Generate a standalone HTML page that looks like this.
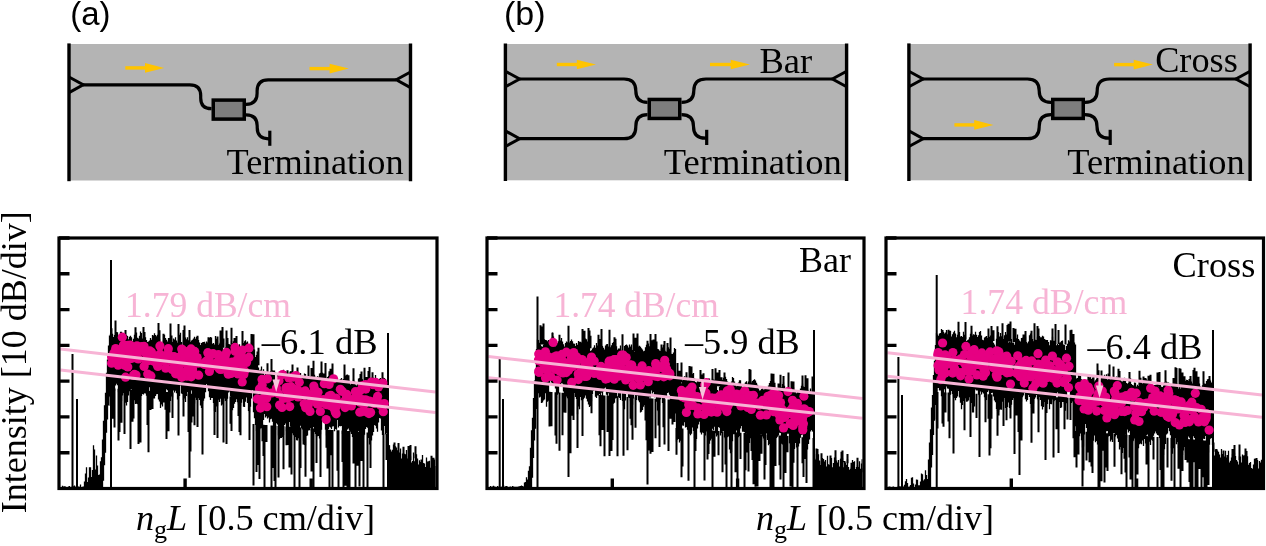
<!DOCTYPE html><html><head><meta charset="utf-8"><style>html,body{margin:0;padding:0;background:#fff;overflow:hidden}svg{display:block}</style></head><body>
<svg width="1266" height="546" viewBox="0 0 1266 546">
<rect width="1266" height="546" fill="#fff"/>
<rect x="69" y="44" width="341.5" height="136.5" fill="#b4b4b4"/>
<path d="M83,84.8 L189.8,84.8 Q200.7,84.8 200.7,95.6 L200.7,97.9 Q200.7,108.7 211.5,108.7 M246.0,104.3 Q257.1,104.3 257.1,93.2 L257.1,90.9 Q257.1,79.8 268.2,79.8 L396,79.8 M246.0,114.8 Q257.2,114.8 257.2,126.0 L257.2,127.6 Q257.2,138.8 268.5,138.8 L270,138.8" fill="none" stroke="#000" stroke-width="3.2"/>
<rect x="213.25" y="100.1" width="31" height="19" fill="#7d7d7d" stroke="#000" stroke-width="3.5"/>
<line x1="269.8" y1="130.7" x2="269.8" y2="145.8" stroke="#000" stroke-width="3.2"/>
<polyline points="69.0,77.0 83.2,84.8 69.0,92.6" fill="none" stroke="#000" stroke-width="3" stroke-linejoin="miter"/>
<polyline points="410.5,72.0 396.3,79.8 410.5,87.6" fill="none" stroke="#000" stroke-width="3" stroke-linejoin="miter"/>
<line x1="69" y1="43.4" x2="69" y2="181.2" stroke="#000" stroke-width="3.4"/>
<line x1="410.5" y1="43.4" x2="410.5" y2="181.2" stroke="#000" stroke-width="3.4"/>
<rect x="125.3" y="66.2" width="20.7" height="3.4" fill="#ffc400"/>
<polygon points="145.0,63.1 164.2,67.9 145.0,72.7" fill="#ffc400"/>
<rect x="309.5" y="66.9" width="21.1" height="3.4" fill="#ffc400"/>
<polygon points="329.6,63.8 348.8,68.6 329.6,73.4" fill="#ffc400"/>
<rect x="505.4" y="44" width="341.2" height="136.3" fill="#b4b4b4"/>
<path d="M519.4,79.0 L624.0,79.0 Q635.8,79.0 635.8,90.7 L635.8,90.7 Q635.8,102.3 647.5,102.3 M519.4,138.7 L624.0,138.7 Q635.8,138.7 635.8,126.9 L635.8,126.5 Q635.8,114.7 647.5,114.7 M681.5,102.3 Q693.8,102.3 693.8,90.7 L693.8,90.7 Q693.8,79.0 706.0,79.0 L832.6,79.0 M681.5,114.6 Q693.5,114.6 693.5,126.4 L693.5,126.4 Q693.5,138.2 705.5,138.2 L706.7,138.2" fill="none" stroke="#000" stroke-width="3.2"/>
<rect x="649.25" y="99.45" width="30.5" height="19" fill="#7d7d7d" stroke="#000" stroke-width="3.5"/>
<line x1="706.7" y1="129.8" x2="706.7" y2="145" stroke="#000" stroke-width="3.2"/>
<polyline points="505.4,71.2 519.6,79.0 505.4,86.8" fill="none" stroke="#000" stroke-width="3" stroke-linejoin="miter"/>
<polyline points="505.4,130.9 519.6,138.7 505.4,146.5" fill="none" stroke="#000" stroke-width="3" stroke-linejoin="miter"/>
<polyline points="846.6,71.2 832.4,79.0 846.6,86.8" fill="none" stroke="#000" stroke-width="3" stroke-linejoin="miter"/>
<line x1="505.4" y1="43.4" x2="505.4" y2="181" stroke="#000" stroke-width="3.4"/>
<line x1="846.6" y1="43.4" x2="846.6" y2="181" stroke="#000" stroke-width="3.4"/>
<rect x="556.8" y="62.8" width="21.0" height="3.4" fill="#ffc400"/>
<polygon points="576.8,59.7 596.0,64.5 576.8,69.3" fill="#ffc400"/>
<rect x="710.0" y="62.8" width="21.7" height="3.4" fill="#ffc400"/>
<polygon points="730.7,59.7 749.9,64.5 730.7,69.3" fill="#ffc400"/>
<rect x="908.9" y="44" width="341.2" height="136.3" fill="#b4b4b4"/>
<path d="M922.9,79.0 L1027.5,79.0 Q1039.2,79.0 1039.2,90.7 L1039.2,90.7 Q1039.2,102.3 1051.0,102.3 M922.9,138.7 L1027.5,138.7 Q1039.2,138.7 1039.2,126.9 L1039.2,126.5 Q1039.2,114.7 1051.0,114.7 M1085.0,102.3 Q1097.2,102.3 1097.2,90.7 L1097.2,90.7 Q1097.2,79.0 1109.5,79.0 L1236.1,79.0 M1085.0,114.6 Q1097.0,114.6 1097.0,126.4 L1097.0,126.4 Q1097.0,138.2 1109.0,138.2 L1110.2,138.2" fill="none" stroke="#000" stroke-width="3.2"/>
<rect x="1052.75" y="99.45" width="30.5" height="19" fill="#7d7d7d" stroke="#000" stroke-width="3.5"/>
<line x1="1110.2" y1="129.8" x2="1110.2" y2="145" stroke="#000" stroke-width="3.2"/>
<polyline points="908.9,71.2 923.1,79.0 908.9,86.8" fill="none" stroke="#000" stroke-width="3" stroke-linejoin="miter"/>
<polyline points="908.9,130.9 923.1,138.7 908.9,146.5" fill="none" stroke="#000" stroke-width="3" stroke-linejoin="miter"/>
<polyline points="1250.1,71.2 1235.9,79.0 1250.1,86.8" fill="none" stroke="#000" stroke-width="3" stroke-linejoin="miter"/>
<line x1="908.9" y1="43.4" x2="908.9" y2="181" stroke="#000" stroke-width="3.4"/>
<line x1="1250.1" y1="43.4" x2="1250.1" y2="181" stroke="#000" stroke-width="3.4"/>
<rect x="1114.1" y="62.9" width="20.6" height="3.4" fill="#ffc400"/>
<polygon points="1133.7,59.8 1152.9,64.6 1133.7,69.4" fill="#ffc400"/>
<rect x="954.4" y="123.2" width="20.8" height="3.4" fill="#ffc400"/>
<polygon points="974.2,120.1 993.4,124.9 974.2,129.7" fill="#ffc400"/>
<clipPath id="c1"><rect x="60.5" y="239.5" width="375" height="247.5"/></clipPath>
<g clip-path="url(#c1)"><path d="M61.5,487.0V488.5M62.5,485.8V488.5M63.5,486.4V488.5M64.5,486.2V488.5M65.5,486.5V488.5M66.5,486.9V488.5M67.5,486.9V488.5M68.5,486.6V488.5M69.5,486.0V488.5M70.5,487.0V488.5M71.5,486.7V488.5M72.5,487.0V488.5M73.5,486.2V488.5M74.5,485.4V488.5M75.5,486.8V488.5M76.5,486.1V488.5M77.5,486.7V488.5M78.5,486.5V488.5M79.5,486.7V488.5M80.5,484.5V488.5M81.5,486.9V488.5M82.5,486.7V488.5M83.5,486.5V488.5M84.5,481.4V488.5M85.5,473.6V488.5M86.5,467.2V488.5M87.5,481.9V488.5M88.5,477.4V488.5M89.5,467.3V488.5M90.5,467.2V488.5M91.5,477.0V488.5M92.5,470.0V488.5M93.5,445.3V488.5M94.5,449.5V488.5M95.5,469.5V488.5M96.5,455.5V488.5M97.5,465.4V488.5M98.5,474.9V488.5M99.5,474.6V488.5M100.5,461.3V488.5M101.5,457.3V488.5M102.5,439.6V488.5M103.5,420.8V480.8M104.5,405.2V465.2M105.5,392.8V452.8M106.5,372.7V432.7M107.5,359.6V419.6M108.5,345.5V405.5M109.5,335.6V396.5M110.5,333.8V397.5M111.5,337.7V390.0M112.5,333.7V391.4M113.5,337.0V392.2M114.5,335.0V390.9M115.5,334.7V385.6M116.5,332.0V383.8M117.5,332.2V385.2M118.5,335.8V392.2M119.5,334.3V398.3M120.5,331.8V403.2M121.5,331.7V401.0M122.5,332.9V395.4M123.5,336.0V393.0M124.5,337.4V394.7M125.5,334.8V402.7M126.5,334.9V405.5M127.5,336.0V401.9M128.5,339.2V395.5M129.5,336.8V391.2M130.5,335.8V389.7M131.5,337.2V389.0M132.5,341.1V391.2M133.5,338.7V399.5M134.5,334.8V400.3M135.5,332.6V404.0M136.5,332.5V403.8M137.5,337.7V404.0M138.5,338.4V404.9M139.5,335.8V401.6M140.5,331.5V400.1M141.5,333.1V396.0M142.5,338.4V393.9M143.5,339.7V394.6M144.5,337.8V393.2M145.5,337.3V393.6M146.5,339.9V395.8M147.5,342.0V393.7M148.5,341.6V393.3M149.5,340.4V387.3M150.5,338.0V390.9M151.5,339.8V393.0M152.5,335.0V398.3M153.5,335.4V398.4M154.5,333.2V398.4M155.5,335.1V395.9M156.5,336.2V394.3M157.5,334.8V394.1M158.5,340.0V399.4M159.5,339.1V401.5M160.5,342.1V407.9M161.5,343.0V404.6M162.5,344.2V406.5M163.5,340.8V402.6M164.5,334.7V402.5M165.5,337.9V396.9M166.5,339.7V389.3M167.5,341.6V390.3M168.5,338.1V396.4M169.5,338.0V401.0M170.5,341.5V401.1M171.5,341.3V396.5M172.5,341.9V397.5M173.5,338.4V390.4M174.5,339.5V392.4M175.5,337.2V390.8M176.5,340.4V393.2M177.5,342.8V399.4M178.5,341.8V395.0M179.5,334.8V396.0M180.5,332.8V385.5M181.5,342.1V393.4M182.5,345.5V394.0M183.5,341.4V400.0M184.5,337.0V398.4M185.5,337.4V402.1M186.5,339.2V395.9M187.5,337.2V392.3M188.5,340.3V396.7M189.5,340.6V396.9M190.5,342.1V396.3M191.5,340.6V390.6M192.5,339.7V397.2M193.5,338.4V400.7M194.5,336.8V403.6M195.5,338.8V397.8M196.5,337.0V400.0M197.5,336.8V399.5M198.5,340.1V398.0M199.5,342.6V399.9M200.5,345.0V405.4M201.5,343.0V408.0M202.5,342.2V403.4M203.5,341.9V400.7M204.5,341.8V398.5M205.5,343.5V392.2M206.5,341.4V383.9M207.5,342.4V386.8M208.5,340.5V391.3M209.5,340.8V397.3M210.5,337.0V400.0M211.5,337.5V398.0M212.5,343.7V397.9M213.5,343.1V403.0M214.5,344.4V410.7M215.5,336.0V412.1M216.5,338.7V406.4M217.5,340.5V405.8M218.5,344.9V399.7M219.5,343.5V402.1M220.5,342.1V398.8M221.5,344.3V405.4M222.5,347.3V404.6M223.5,351.3V401.5M224.5,350.3V398.5M225.5,347.5V400.9M226.5,342.8V400.8M227.5,342.3V398.8M228.5,343.9V392.6M229.5,344.2V391.5M230.5,344.9V396.4M231.5,340.9V402.9M232.5,342.9V410.2M233.5,341.3V408.0M234.5,342.5V403.8M235.5,342.2V402.1M236.5,346.5V399.2M237.5,350.3V402.2M238.5,349.3V404.8M239.5,344.3V410.0M240.5,349.8V405.7M241.5,351.5V402.7M242.5,351.1V399.3M243.5,342.9V406.7M244.5,341.2V407.0M245.5,340.3V401.7M246.5,342.6V397.5M247.5,341.4V402.9M248.5,347.8V411.0M249.5,349.6V412.5M250.5,344.6V406.8M251.5,342.0V398.6M252.5,336.3V390.3M253.5,346.3V412.3M254.5,349.4V418.2M255.5,357.1V424.9M256.5,354.9V431.0M257.5,361.4V430.4M258.5,367.5V432.5M259.5,370.3V429.5M260.5,369.8V428.5M261.5,366.5V428.2M262.5,371.6V426.3M263.5,369.3V420.0M264.5,375.2V414.1M265.5,373.1V417.4M266.5,375.4V416.3M267.5,372.3V418.6M268.5,373.1V417.4M269.5,373.4V422.6M270.5,371.0V419.2M271.5,372.3V418.8M272.5,370.2V421.7M273.5,370.6V430.3M274.5,370.5V433.0M275.5,372.5V429.8M276.5,373.6V423.3M277.5,373.5V424.4M278.5,376.1V435.4M279.5,375.3V439.3M280.5,375.7V438.1M281.5,372.6V438.1M282.5,372.2V436.9M283.5,369.7V435.0M284.5,372.5V424.9M285.5,371.1V423.4M286.5,372.4V431.3M287.5,372.1V431.3M288.5,375.7V433.0M289.5,376.5V421.9M290.5,371.2V426.8M291.5,371.3V429.6M292.5,372.9V433.3M293.5,374.3V435.3M294.5,375.2V434.9M295.5,373.1V437.1M296.5,373.8V440.2M297.5,372.4V440.5M298.5,373.6V438.2M299.5,376.7V430.8M300.5,372.9V425.8M301.5,377.5V428.3M302.5,375.8V429.5M303.5,376.0V440.8M304.5,373.4V445.1M305.5,374.0V445.5M306.5,378.3V436.0M307.5,376.2V435.6M308.5,376.9V430.5M309.5,376.8V430.2M310.5,376.0V427.9M311.5,377.7V431.0M312.5,376.2V431.0M313.5,376.0V427.0M314.5,374.7V432.0M315.5,376.8V434.0M316.5,378.4V436.5M317.5,376.3V436.3M318.5,376.8V436.1M319.5,373.4V438.4M320.5,373.1V434.3M321.5,371.9V429.8M322.5,372.8V420.8M323.5,375.3V418.1M324.5,375.2V420.9M325.5,380.3V429.8M326.5,378.3V435.5M327.5,377.1V435.4M328.5,375.9V428.9M329.5,372.5V426.8M330.5,380.9V427.5M331.5,378.7V429.1M332.5,382.7V426.4M333.5,377.7V426.2M334.5,379.2V431.2M335.5,376.9V429.0M336.5,376.5V429.8M337.5,378.6V420.1M338.5,381.7V427.5M339.5,379.7V426.0M340.5,378.9V426.2M341.5,378.0V426.0M342.5,379.7V434.1M343.5,379.1V441.0M344.5,379.7V444.4M345.5,375.6V438.6M346.5,374.7V431.6M347.5,374.4V429.6M348.5,379.8V428.6M349.5,380.8V430.8M350.5,384.6V431.8M351.5,382.7V434.1M352.5,383.0V437.1M353.5,379.6V437.4M354.5,380.9V433.9M355.5,384.4V437.6M356.5,385.5V432.0M357.5,382.7V436.5M358.5,378.4V431.1M359.5,378.1V438.8M360.5,377.9V438.0M361.5,378.7V446.0M362.5,379.2V438.8M363.5,384.1V436.6M364.5,383.9V434.8M365.5,385.3V428.9M366.5,384.3V427.1M367.5,383.7V427.8M368.5,386.3V437.9M369.5,382.8V444.4M370.5,381.7V440.3M371.5,377.7V440.6M372.5,378.9V435.4M373.5,377.7V432.1M374.5,378.5V425.1M375.5,375.1V425.8M376.5,381.4V428.4M377.5,381.4V431.8M378.5,383.8V422.5M379.5,378.7V418.1M380.5,378.1V418.4M381.5,379.1V430.5M382.5,378.9V435.0M383.5,377.7V434.0M384.5,377.9V426.0M385.5,379.1V434.2M386.5,383.4V433.5M387.5,386.5V446.1M388.5,449.3V488.5M389.5,445.2V488.5M390.5,449.6V488.5M391.5,451.4V488.5M392.5,449.8V488.5M393.5,444.5V488.5M394.5,453.2V488.5M395.5,446.2V488.5M396.5,447.4V488.5M397.5,450.2V488.5M398.5,453.5V488.5M399.5,452.5V488.5M400.5,448.6V488.5M401.5,458.4V488.5M402.5,453.4V488.5M403.5,458.7V488.5M404.5,453.7V488.5M405.5,454.2V488.5M406.5,450.0V488.5M407.5,458.4V488.5M408.5,455.7V488.5M409.5,457.7V488.5M410.5,456.3V488.5M411.5,462.5V488.5M412.5,461.1V488.5M413.5,452.6V488.5M414.5,461.3V488.5M415.5,454.2V488.5M416.5,454.3V488.5M417.5,458.6V488.5M418.5,464.4V488.5M419.5,460.3V488.5M420.5,462.0V488.5M421.5,463.3V488.5M422.5,455.1V488.5M423.5,462.9V488.5M424.5,463.5V488.5M425.5,467.1V488.5M426.5,457.6V488.5M427.5,461.4V488.5M428.5,461.2V488.5M429.5,460.8V488.5M430.5,467.8V488.5M431.5,467.6V488.5M432.5,462.6V488.5M433.5,465.9V488.5M434.5,459.6V488.5M435.5,465.9V488.5" stroke="#000" stroke-width="1.3" fill="none"/><path d="M110.5,388.1V405.7M111.5,328.2V339.2M112.5,388.2V418.8M114.5,388.4V427.5M115.5,320.4V339.5M118.5,388.7V440.5M119.5,388.7V432.0M121.5,388.9V422.7M124.5,389.1V434.0M125.5,330.1V340.3M130.5,389.5V448.9M132.5,389.6V421.8M133.5,389.7V418.4M135.5,327.3V341.0M138.5,390.0V444.1M140.5,390.2V442.5M143.5,327.1V341.6M144.5,331.9V341.7M147.5,390.7V425.0M148.5,390.7V452.3M150.5,390.9V410.1M152.5,391.0V408.9M158.5,323.0V342.8M159.5,330.3V342.9M163.5,333.8V343.2M165.5,391.9V409.7M166.5,392.0V438.9M168.5,392.1V431.3M169.5,392.2V412.6M170.5,323.6V343.7M171.5,335.6V343.8M172.5,392.4V418.0M178.5,324.0V344.3M178.5,392.8V435.4M183.5,330.0V344.7M183.5,393.2V416.4M184.5,325.5V344.8M188.5,393.5V432.1M189.5,329.9V345.1M189.5,393.6V477.8M190.5,393.7V451.6M191.5,393.7V422.6M192.5,393.8V416.5M194.5,393.9V425.3M197.5,335.7V345.8M197.5,394.1V427.1M202.5,394.5V454.6M208.5,337.3V346.6M209.5,337.8V346.7M214.5,395.3V435.1M217.5,336.5V347.3M217.5,395.5V438.1M220.5,330.6V347.5M222.5,326.9V347.7M223.5,338.6V347.7M223.5,396.0V442.5M226.5,330.4V348.0M226.5,396.2V443.9M227.5,338.0V348.1M230.5,396.4V423.8M231.5,327.7V348.4M231.5,396.5V431.1M234.5,337.9V348.6M236.5,335.9V348.7M238.5,397.0V415.9M239.5,397.1V431.9M240.5,397.1V435.2M242.5,331.1V349.2M249.5,397.8V440.1M251.5,334.1V349.9M253.5,334.2V351.4M253.5,424.0V485.5M256.5,424.3V471.9M257.5,351.6V362.5M258.5,347.7V365.3M258.5,424.4V464.9M259.5,424.5V479.0M262.5,424.7V441.3M263.5,424.8V455.9M264.5,424.9V488.5M266.5,425.0V441.9M267.5,363.3V378.1M271.5,359.1V378.4M271.5,425.4V488.5M273.5,425.5V468.0M274.5,425.6V481.1M275.5,425.7V488.1M278.5,425.9V477.6M283.5,426.3V469.2M286.5,426.5V445.2M287.5,370.2V379.6M287.5,426.6V444.9M289.5,426.7V467.6M290.5,371.7V379.8M291.5,426.9V474.5M292.5,364.4V379.9M294.5,427.1V487.8M297.5,367.5V380.3M299.5,427.4V488.5M300.5,427.5V468.0M303.5,427.7V444.4M304.5,427.8V444.0M305.5,427.9V476.7M308.5,365.5V381.1M311.5,368.1V381.3M311.5,428.3V471.5M313.5,360.7V381.5M313.5,428.5V488.5M316.5,428.7V463.0M320.5,429.0V477.1M321.5,361.4V382.1M322.5,373.8V382.1M323.5,373.5V382.2M325.5,363.1V382.4M326.5,429.4V447.8M327.5,429.5V468.5M329.5,371.3V382.7M329.5,429.7V488.5M330.5,368.7V382.7M330.5,429.7V455.2M331.5,368.9V382.8M332.5,363.4V382.9M332.5,429.9V488.5M337.5,430.3V470.8M338.5,430.3V488.7M342.5,430.6V461.9M343.5,430.7V490.7M344.5,364.4V383.8M345.5,430.9V485.7M347.5,431.0V492.8M348.5,375.3V384.1M349.5,431.1V488.5M353.5,368.2V384.4M353.5,431.4V463.5M355.5,431.6V488.5M357.5,431.7V465.7M358.5,431.8V448.5M359.5,431.9V486.4M360.5,374.1V385.0M361.5,371.6V385.0M361.5,432.0V460.9M363.5,432.2V492.1M364.5,367.7V385.3M366.5,376.9V385.4M367.5,432.5V487.4M368.5,371.1V385.6M369.5,367.1V385.6M370.5,432.7V467.9M372.5,372.3V385.9M382.5,372.2V386.6M383.5,433.7V496.0M386.5,433.9V460.0M388.5,445.0V453.3M394.5,442.5V457.2M398.5,443.1V457.5M403.5,446.8V462.7M408.5,446.0V459.7M409.5,452.8V461.7M410.5,445.0V460.3M415.5,446.2V458.2M421.5,459.4V467.3M431.5,455.8V471.6M433.5,457.7V469.9M72.5,354.0V488.5M77.0,399.0V488.5M111.0,260.0V488.5M388.0,333.0V488.5" stroke="#000" stroke-width="2" fill="none"/></g>
<g fill="#e60082"><circle cx="136.3" cy="354.2" r="4.6"/><circle cx="198.2" cy="363.2" r="4.6"/><circle cx="187.5" cy="359.2" r="4.6"/><circle cx="207.0" cy="361.4" r="4.6"/><circle cx="182.2" cy="358.0" r="4.6"/><circle cx="235.0" cy="347.4" r="4.6"/><circle cx="187.3" cy="352.2" r="4.6"/><circle cx="130.2" cy="345.1" r="4.6"/><circle cx="212.9" cy="364.4" r="4.6"/><circle cx="178.9" cy="362.4" r="4.6"/><circle cx="186.8" cy="376.2" r="4.6"/><circle cx="119.1" cy="350.2" r="4.6"/><circle cx="165.2" cy="359.4" r="4.6"/><circle cx="208.2" cy="365.2" r="4.6"/><circle cx="133.5" cy="348.3" r="4.6"/><circle cx="242.2" cy="381.9" r="4.6"/><circle cx="195.9" cy="361.1" r="4.6"/><circle cx="208.6" cy="354.1" r="4.6"/><circle cx="238.8" cy="354.6" r="4.6"/><circle cx="130.3" cy="354.4" r="4.6"/><circle cx="157.0" cy="364.2" r="4.6"/><circle cx="228.8" cy="363.0" r="4.6"/><circle cx="191.2" cy="376.8" r="4.6"/><circle cx="231.9" cy="370.7" r="4.6"/><circle cx="179.5" cy="365.6" r="4.6"/><circle cx="174.0" cy="356.6" r="4.6"/><circle cx="159.0" cy="360.4" r="4.6"/><circle cx="149.5" cy="355.1" r="4.6"/><circle cx="221.8" cy="361.9" r="4.6"/><circle cx="176.2" cy="358.5" r="4.6"/><circle cx="121.1" cy="354.6" r="4.6"/><circle cx="243.8" cy="374.4" r="4.6"/><circle cx="207.8" cy="352.7" r="4.6"/><circle cx="224.0" cy="368.1" r="4.6"/><circle cx="138.3" cy="359.0" r="4.6"/><circle cx="157.8" cy="366.4" r="4.6"/><circle cx="194.7" cy="351.4" r="4.6"/><circle cx="204.9" cy="364.4" r="4.6"/><circle cx="116.7" cy="357.0" r="4.6"/><circle cx="225.0" cy="359.6" r="4.6"/><circle cx="187.1" cy="364.7" r="4.6"/><circle cx="177.3" cy="373.9" r="4.6"/><circle cx="191.0" cy="348.9" r="4.6"/><circle cx="123.4" cy="345.2" r="4.6"/><circle cx="223.4" cy="359.5" r="4.6"/><circle cx="220.4" cy="369.4" r="4.6"/><circle cx="125.4" cy="353.0" r="4.6"/><circle cx="216.8" cy="362.3" r="4.6"/><circle cx="210.7" cy="367.1" r="4.6"/><circle cx="181.7" cy="349.0" r="4.6"/><circle cx="192.7" cy="372.6" r="4.6"/><circle cx="176.3" cy="364.9" r="4.6"/><circle cx="244.6" cy="371.1" r="4.6"/><circle cx="127.6" cy="345.4" r="4.6"/><circle cx="181.2" cy="356.1" r="4.6"/><circle cx="182.6" cy="350.0" r="4.6"/><circle cx="233.5" cy="367.8" r="4.6"/><circle cx="187.4" cy="359.3" r="4.6"/><circle cx="232.1" cy="362.1" r="4.6"/><circle cx="153.4" cy="361.1" r="4.6"/><circle cx="218.4" cy="354.7" r="4.6"/><circle cx="185.6" cy="360.1" r="4.6"/><circle cx="150.9" cy="375.9" r="4.6"/><circle cx="222.7" cy="369.1" r="4.6"/><circle cx="150.5" cy="359.5" r="4.6"/><circle cx="126.3" cy="356.6" r="4.6"/><circle cx="171.1" cy="361.4" r="4.6"/><circle cx="167.2" cy="357.4" r="4.6"/><circle cx="134.3" cy="374.4" r="4.6"/><circle cx="197.2" cy="357.6" r="4.6"/><circle cx="228.4" cy="373.5" r="4.6"/><circle cx="187.0" cy="371.6" r="4.6"/><circle cx="164.7" cy="359.1" r="4.6"/><circle cx="231.1" cy="373.4" r="4.6"/><circle cx="237.7" cy="366.9" r="4.6"/><circle cx="129.3" cy="353.7" r="4.6"/><circle cx="192.6" cy="368.9" r="4.6"/><circle cx="182.9" cy="357.3" r="4.6"/><circle cx="189.2" cy="361.7" r="4.6"/><circle cx="180.5" cy="356.6" r="4.6"/><circle cx="198.6" cy="375.2" r="4.6"/><circle cx="209.4" cy="356.8" r="4.6"/><circle cx="180.3" cy="358.2" r="4.6"/><circle cx="179.8" cy="360.8" r="4.6"/><circle cx="220.9" cy="367.9" r="4.6"/><circle cx="133.4" cy="355.9" r="4.6"/><circle cx="135.0" cy="350.0" r="4.6"/><circle cx="111.6" cy="363.2" r="4.6"/><circle cx="168.3" cy="348.7" r="4.6"/><circle cx="242.5" cy="350.1" r="4.6"/><circle cx="159.9" cy="345.9" r="4.6"/><circle cx="147.7" cy="374.0" r="4.6"/><circle cx="228.3" cy="374.2" r="4.6"/><circle cx="188.4" cy="367.0" r="4.6"/><circle cx="197.1" cy="360.9" r="4.6"/><circle cx="154.8" cy="356.1" r="4.6"/><circle cx="146.0" cy="361.5" r="4.6"/><circle cx="142.2" cy="350.4" r="4.6"/><circle cx="208.4" cy="362.1" r="4.6"/><circle cx="183.3" cy="372.5" r="4.6"/><circle cx="134.9" cy="352.4" r="4.6"/><circle cx="209.4" cy="371.5" r="4.6"/><circle cx="185.0" cy="357.7" r="4.6"/><circle cx="152.3" cy="355.7" r="4.6"/><circle cx="179.2" cy="371.5" r="4.6"/><circle cx="120.6" cy="354.0" r="4.6"/><circle cx="239.5" cy="360.8" r="4.6"/><circle cx="235.1" cy="351.2" r="4.6"/><circle cx="193.1" cy="361.2" r="4.6"/><circle cx="233.7" cy="372.4" r="4.6"/><circle cx="186.9" cy="372.0" r="4.6"/><circle cx="212.5" cy="365.9" r="4.6"/><circle cx="161.6" cy="361.0" r="4.6"/><circle cx="111.6" cy="356.9" r="4.6"/><circle cx="149.8" cy="350.9" r="4.6"/><circle cx="144.1" cy="366.4" r="4.6"/><circle cx="230.3" cy="367.7" r="4.6"/><circle cx="113.9" cy="353.1" r="4.6"/><circle cx="206.0" cy="361.3" r="4.6"/><circle cx="133.1" cy="358.0" r="4.6"/><circle cx="145.7" cy="353.2" r="4.6"/><circle cx="137.0" cy="345.8" r="4.6"/><circle cx="203.0" cy="363.8" r="4.6"/><circle cx="137.2" cy="356.2" r="4.6"/><circle cx="174.3" cy="368.8" r="4.6"/><circle cx="179.9" cy="363.0" r="4.6"/><circle cx="225.2" cy="362.4" r="4.6"/><circle cx="242.0" cy="357.1" r="4.6"/><circle cx="187.9" cy="351.7" r="4.6"/><circle cx="160.0" cy="354.0" r="4.6"/><circle cx="239.0" cy="365.0" r="4.6"/><circle cx="169.6" cy="356.1" r="4.6"/><circle cx="175.6" cy="373.7" r="4.6"/><circle cx="163.7" cy="360.0" r="4.6"/><circle cx="238.1" cy="374.0" r="4.6"/><circle cx="172.1" cy="369.5" r="4.6"/><circle cx="126.7" cy="358.2" r="4.6"/><circle cx="183.9" cy="353.9" r="4.6"/><circle cx="161.4" cy="356.9" r="4.6"/><circle cx="125.5" cy="377.2" r="4.6"/><circle cx="127.8" cy="366.9" r="4.6"/><circle cx="136.0" cy="375.0" r="4.6"/><circle cx="226.5" cy="352.4" r="4.6"/><circle cx="213.1" cy="353.7" r="4.6"/><circle cx="129.8" cy="358.7" r="4.6"/><circle cx="124.6" cy="365.3" r="4.6"/><circle cx="118.8" cy="360.0" r="4.6"/><circle cx="168.1" cy="353.5" r="4.6"/><circle cx="123.9" cy="349.4" r="4.6"/><circle cx="219.2" cy="368.7" r="4.6"/><circle cx="144.0" cy="346.3" r="4.6"/><circle cx="182.5" cy="351.2" r="4.6"/><circle cx="237.2" cy="359.8" r="4.6"/><circle cx="127.2" cy="345.6" r="4.6"/><circle cx="151.4" cy="352.1" r="4.6"/><circle cx="189.2" cy="355.1" r="4.6"/><circle cx="130.6" cy="358.4" r="4.6"/><circle cx="246.5" cy="362.4" r="4.6"/><circle cx="118.2" cy="365.2" r="4.6"/><circle cx="241.3" cy="365.3" r="4.6"/><circle cx="248.9" cy="357.4" r="4.6"/><circle cx="225.1" cy="356.6" r="4.6"/><circle cx="242.1" cy="374.4" r="4.6"/><circle cx="156.5" cy="362.4" r="4.6"/><circle cx="181.7" cy="377.3" r="4.6"/><circle cx="193.2" cy="356.4" r="4.6"/><circle cx="115.7" cy="348.5" r="4.6"/><circle cx="112.8" cy="357.8" r="4.6"/><circle cx="147.8" cy="360.7" r="4.6"/><circle cx="248.9" cy="348.2" r="4.6"/><circle cx="188.4" cy="352.9" r="4.6"/><circle cx="133.6" cy="375.5" r="4.6"/><circle cx="208.7" cy="360.1" r="4.6"/><circle cx="141.7" cy="346.7" r="4.6"/><circle cx="165.7" cy="368.2" r="4.6"/><circle cx="291.7" cy="396.3" r="4.6"/><circle cx="307.9" cy="406.0" r="4.6"/><circle cx="298.1" cy="397.0" r="4.6"/><circle cx="261.2" cy="401.0" r="4.6"/><circle cx="340.3" cy="389.3" r="4.6"/><circle cx="329.1" cy="384.5" r="4.6"/><circle cx="323.7" cy="399.5" r="4.6"/><circle cx="355.4" cy="391.7" r="4.6"/><circle cx="266.8" cy="406.7" r="4.6"/><circle cx="260.4" cy="408.1" r="4.6"/><circle cx="262.0" cy="379.4" r="4.6"/><circle cx="279.6" cy="405.1" r="4.6"/><circle cx="373.1" cy="384.7" r="4.6"/><circle cx="366.1" cy="400.1" r="4.6"/><circle cx="371.5" cy="382.0" r="4.6"/><circle cx="295.9" cy="375.6" r="4.6"/><circle cx="345.1" cy="407.6" r="4.6"/><circle cx="365.5" cy="384.6" r="4.6"/><circle cx="310.0" cy="411.4" r="4.6"/><circle cx="346.7" cy="394.3" r="4.6"/><circle cx="266.7" cy="398.1" r="4.6"/><circle cx="327.0" cy="401.2" r="4.6"/><circle cx="330.0" cy="405.5" r="4.6"/><circle cx="326.2" cy="419.6" r="4.6"/><circle cx="375.7" cy="382.4" r="4.6"/><circle cx="380.8" cy="405.6" r="4.6"/><circle cx="288.9" cy="378.0" r="4.6"/><circle cx="259.5" cy="389.0" r="4.6"/><circle cx="353.4" cy="399.2" r="4.6"/><circle cx="282.0" cy="407.4" r="4.6"/><circle cx="360.1" cy="390.8" r="4.6"/><circle cx="377.6" cy="396.4" r="4.6"/><circle cx="288.8" cy="390.9" r="4.6"/><circle cx="291.1" cy="386.7" r="4.6"/><circle cx="304.2" cy="403.7" r="4.6"/><circle cx="336.0" cy="398.1" r="4.6"/><circle cx="314.4" cy="388.7" r="4.6"/><circle cx="286.1" cy="389.6" r="4.6"/><circle cx="346.2" cy="398.3" r="4.6"/><circle cx="350.6" cy="400.9" r="4.6"/><circle cx="360.0" cy="402.3" r="4.6"/><circle cx="378.9" cy="403.0" r="4.6"/><circle cx="315.2" cy="394.1" r="4.6"/><circle cx="257.3" cy="398.9" r="4.6"/><circle cx="320.4" cy="411.5" r="4.6"/><circle cx="260.7" cy="388.8" r="4.6"/><circle cx="291.2" cy="392.6" r="4.6"/><circle cx="282.5" cy="374.5" r="4.6"/><circle cx="293.1" cy="377.2" r="4.6"/><circle cx="369.0" cy="413.6" r="4.6"/><circle cx="382.9" cy="383.0" r="4.6"/><circle cx="335.4" cy="412.3" r="4.6"/><circle cx="359.8" cy="412.2" r="4.6"/><circle cx="362.2" cy="411.6" r="4.6"/><circle cx="351.4" cy="405.9" r="4.6"/><circle cx="307.2" cy="407.9" r="4.6"/><circle cx="286.0" cy="387.8" r="4.6"/><circle cx="317.3" cy="403.9" r="4.6"/><circle cx="289.7" cy="406.6" r="4.6"/><circle cx="326.6" cy="404.7" r="4.6"/><circle cx="308.5" cy="404.0" r="4.6"/><circle cx="363.9" cy="400.1" r="4.6"/><circle cx="378.5" cy="387.1" r="4.6"/><circle cx="357.9" cy="400.0" r="4.6"/><circle cx="321.2" cy="402.9" r="4.6"/><circle cx="342.3" cy="391.4" r="4.6"/><circle cx="369.5" cy="401.1" r="4.6"/><circle cx="265.6" cy="391.7" r="4.6"/><circle cx="276.4" cy="387.9" r="4.6"/><circle cx="311.9" cy="398.9" r="4.6"/><circle cx="287.4" cy="387.3" r="4.6"/><circle cx="279.0" cy="380.8" r="4.6"/><circle cx="330.9" cy="395.4" r="4.6"/><circle cx="305.7" cy="407.7" r="4.6"/><circle cx="299.3" cy="382.3" r="4.6"/><circle cx="309.2" cy="394.5" r="4.6"/><circle cx="327.7" cy="399.5" r="4.6"/><circle cx="343.9" cy="402.1" r="4.6"/><circle cx="370.6" cy="412.4" r="4.6"/><circle cx="302.6" cy="392.1" r="4.6"/><circle cx="365.6" cy="400.1" r="4.6"/><circle cx="294.7" cy="394.0" r="4.6"/><circle cx="316.6" cy="392.9" r="4.6"/><circle cx="271.7" cy="393.0" r="4.6"/><circle cx="298.0" cy="390.2" r="4.6"/><circle cx="294.1" cy="389.4" r="4.6"/><circle cx="318.7" cy="399.0" r="4.6"/><circle cx="358.5" cy="398.0" r="4.6"/><circle cx="356.2" cy="392.6" r="4.6"/><circle cx="362.4" cy="385.8" r="4.6"/><circle cx="278.5" cy="393.7" r="4.6"/><circle cx="324.3" cy="383.7" r="4.6"/><circle cx="383.3" cy="411.7" r="4.6"/><circle cx="336.2" cy="406.7" r="4.6"/><circle cx="264.7" cy="398.0" r="4.6"/><circle cx="313.8" cy="386.0" r="4.6"/><circle cx="262.7" cy="398.7" r="4.6"/><circle cx="336.2" cy="413.8" r="4.6"/><circle cx="374.3" cy="401.5" r="4.6"/><circle cx="363.9" cy="404.5" r="4.6"/><circle cx="329.1" cy="396.1" r="4.6"/><circle cx="367.4" cy="412.2" r="4.6"/><circle cx="283.3" cy="398.4" r="4.6"/><circle cx="338.6" cy="403.0" r="4.6"/><circle cx="333.6" cy="407.9" r="4.6"/><circle cx="287.8" cy="394.5" r="4.6"/><circle cx="374.2" cy="403.5" r="4.6"/><circle cx="361.6" cy="399.6" r="4.6"/><circle cx="262.2" cy="385.1" r="4.6"/><circle cx="287.4" cy="398.3" r="4.6"/><circle cx="333.5" cy="378.8" r="4.6"/><circle cx="305.2" cy="394.7" r="4.6"/><circle cx="384.3" cy="403.5" r="4.6"/><circle cx="365.8" cy="389.1" r="4.6"/><circle cx="305.2" cy="390.9" r="4.6"/><circle cx="297.6" cy="394.5" r="4.6"/><circle cx="314.7" cy="397.8" r="4.6"/><circle cx="331.1" cy="401.4" r="4.6"/><circle cx="267.4" cy="378.8" r="4.6"/><circle cx="318.0" cy="392.3" r="4.6"/><circle cx="122.3" cy="337.2" r="4.6"/></g>
<line x1="60.5" y1="349" x2="435.5" y2="392" stroke="#f7b4d5" stroke-width="3"/>
<line x1="60.5" y1="370" x2="435.5" y2="412.6" stroke="#f7b4d5" stroke-width="3"/>
<line x1="276.2" y1="373" x2="276.2" y2="382" stroke="#f8c4dc" stroke-width="2.4"/>
<polygon points="272.5,379.5 279.9,379.5 276.2,392" fill="#f8c4dc"/>
<path d="M59,273.8H69.5M59,309.6H69.5M59,345.4H69.5M59,381.1H69.5M59,416.9H69.5M59,452.7H69.5M59,238H69.5M185.1,488.5V478.5M311.2,488.5V478.5" stroke="#000" stroke-width="3.4"/>
<rect x="59" y="238" width="378" height="250.5" fill="none" stroke="#000" stroke-width="3.2"/>
<clipPath id="c2"><rect x="488.5" y="239.5" width="374" height="247.5"/></clipPath>
<g clip-path="url(#c2)"><path d="M489.5,486.9V488.5M490.5,486.1V488.5M491.5,486.7V488.5M492.5,486.6V488.5M493.5,485.7V488.5M494.5,486.6V488.5M495.5,486.7V488.5M496.5,486.9V488.5M497.5,486.0V488.5M498.5,486.7V488.5M499.5,485.7V488.5M500.5,486.9V488.5M501.5,486.8V488.5M502.5,486.2V488.5M503.5,485.1V488.5M504.5,486.8V488.5M505.5,486.2V488.5M506.5,486.1V488.5M507.5,486.6V488.5M508.5,486.9V488.5M509.5,486.8V488.5M510.5,486.6V488.5M511.5,486.9V488.5M512.5,486.1V488.5M513.5,486.5V488.5M514.5,486.7V488.5M515.5,486.7V488.5M516.5,486.8V488.5M517.5,486.7V488.5M518.5,486.5V488.5M519.5,486.2V488.5M520.5,486.1V488.5M521.5,485.4V488.5M522.5,486.0V488.5M523.5,486.5V488.5M524.5,482.5V488.5M525.5,482.1V488.5M526.5,477.2V488.5M527.5,479.6V488.5M528.5,470.8V488.5M529.5,466.3V488.5M530.5,447.8V488.5M531.5,430.2V488.5M532.5,417.7V477.7M533.5,398.1V458.1M534.5,380.4V440.4M535.5,368.8V428.8M536.5,349.1V409.1M537.5,339.6V392.6M538.5,340.0V393.3M539.5,342.7V397.5M540.5,344.2V396.7M541.5,346.3V403.0M542.5,346.7V402.5M543.5,344.6V400.5M544.5,339.3V399.5M545.5,340.0V393.2M546.5,340.2V406.7M547.5,341.3V401.7M548.5,340.1V400.8M549.5,341.6V384.3M550.5,340.2V381.1M551.5,337.8V382.5M552.5,332.6V385.8M553.5,336.5V386.1M554.5,339.4V385.7M555.5,346.3V388.6M556.5,344.3V398.2M557.5,342.9V394.7M558.5,341.2V393.5M559.5,341.2V385.0M560.5,340.4V385.8M561.5,338.1V383.3M562.5,341.4V383.5M563.5,344.2V391.5M564.5,346.5V395.4M565.5,343.1V396.8M566.5,341.4V396.5M567.5,342.3V398.2M568.5,342.7V399.4M569.5,342.6V398.7M570.5,340.9V394.8M571.5,339.6V397.9M572.5,341.3V398.2M573.5,343.6V399.8M574.5,343.8V393.3M575.5,346.0V397.1M576.5,343.0V399.0M577.5,344.8V414.2M578.5,341.0V406.6M579.5,341.8V409.3M580.5,341.7V397.0M581.5,342.5V400.3M582.5,341.7V400.3M583.5,340.6V399.0M584.5,340.0V397.8M585.5,338.6V395.5M586.5,339.3V398.8M587.5,341.5V401.4M588.5,345.9V404.5M589.5,347.5V407.1M590.5,351.1V406.0M591.5,350.2V401.2M592.5,348.4V394.3M593.5,347.5V390.8M594.5,345.2V390.2M595.5,347.7V396.7M596.5,342.9V398.1M597.5,345.4V395.6M598.5,340.4V395.5M599.5,343.7V394.0M600.5,342.9V395.8M601.5,344.7V392.8M602.5,346.1V397.4M603.5,347.8V391.6M604.5,349.6V388.5M605.5,345.5V387.5M606.5,344.2V394.8M607.5,343.9V395.8M608.5,346.5V393.3M609.5,348.1V399.6M610.5,347.3V401.1M611.5,345.2V405.7M612.5,343.0V403.6M613.5,341.9V403.7M614.5,341.9V402.8M615.5,342.7V398.5M616.5,346.3V398.0M617.5,349.7V392.4M618.5,348.5V397.2M619.5,348.4V398.0M620.5,345.4V400.1M621.5,350.4V393.1M622.5,349.5V401.0M623.5,351.2V405.7M624.5,346.1V409.3M625.5,344.9V400.4M626.5,344.4V392.4M627.5,345.5V394.0M628.5,347.5V397.5M629.5,344.6V398.0M630.5,346.5V401.2M631.5,344.4V403.0M632.5,350.1V404.7M633.5,348.6V398.6M634.5,352.1V394.4M635.5,346.8V398.5M636.5,348.1V400.0M637.5,344.8V395.7M638.5,346.4V400.5M639.5,345.8V402.2M640.5,346.8V412.6M641.5,348.2V411.8M642.5,349.5V410.0M643.5,351.3V406.8M644.5,350.8V405.1M645.5,347.2V408.6M646.5,344.8V406.9M647.5,344.7V402.1M648.5,343.4V399.6M649.5,346.2V397.4M650.5,346.2V397.6M651.5,349.5V390.4M652.5,349.9V393.6M653.5,351.6V392.0M654.5,352.5V397.3M655.5,349.2V396.9M656.5,348.6V401.7M657.5,348.9V410.5M658.5,349.2V411.4M659.5,350.6V405.4M660.5,350.9V399.2M661.5,349.1V396.4M662.5,347.6V402.9M663.5,344.7V400.1M664.5,350.1V399.7M665.5,351.3V396.5M666.5,351.7V396.8M667.5,348.3V392.9M668.5,347.2V392.4M669.5,348.7V394.7M670.5,353.0V405.5M671.5,354.1V406.9M672.5,354.1V405.7M673.5,352.6V403.5M674.5,347.9V406.6M675.5,349.0V413.6M676.5,376.6V441.7M677.5,379.9V439.8M678.5,378.2V439.0M679.5,377.8V442.4M680.5,381.6V440.8M681.5,383.3V436.7M682.5,380.5V425.4M683.5,379.7V425.8M684.5,376.2V422.2M685.5,379.1V427.5M686.5,375.7V427.1M687.5,380.6V429.8M688.5,378.4V430.2M689.5,381.8V433.8M690.5,380.8V435.3M691.5,379.4V433.7M692.5,373.8V427.4M693.5,372.9V431.1M694.5,378.2V438.2M695.5,381.9V441.2M696.5,382.6V438.9M697.5,380.1V428.5M698.5,381.3V424.6M699.5,381.9V421.8M700.5,382.9V432.5M701.5,380.0V434.4M702.5,381.5V432.5M703.5,383.5V433.0M704.5,383.0V430.1M705.5,385.1V435.4M706.5,384.1V431.5M707.5,385.6V437.6M708.5,378.4V436.0M709.5,378.4V443.7M710.5,380.3V440.5M711.5,382.7V438.8M712.5,378.6V428.7M713.5,379.6V430.3M714.5,379.7V426.7M715.5,382.1V433.3M716.5,385.2V436.6M717.5,390.0V435.2M718.5,392.5V427.1M719.5,386.9V427.8M720.5,384.5V435.6M721.5,379.0V433.0M722.5,380.1V431.4M723.5,377.8V430.9M724.5,379.6V437.5M725.5,376.8V439.3M726.5,379.1V432.0M727.5,381.6V437.2M728.5,384.7V436.6M729.5,385.3V449.6M730.5,383.8V453.3M731.5,381.5V452.1M732.5,377.1V441.3M733.5,378.1V434.3M734.5,381.6V434.3M735.5,384.5V437.1M736.5,386.3V430.5M737.5,383.1V437.2M738.5,382.6V437.3M739.5,380.3V436.1M740.5,380.3V428.5M741.5,384.4V426.1M742.5,387.3V431.7M743.5,388.2V431.8M744.5,383.8V432.3M745.5,382.3V433.9M746.5,381.3V433.2M747.5,383.4V439.6M748.5,381.4V442.0M749.5,383.3V443.1M750.5,380.9V438.3M751.5,382.4V434.6M752.5,380.9V439.1M753.5,380.0V441.5M754.5,379.3V441.3M755.5,380.5V438.2M756.5,382.8V439.3M757.5,384.7V441.2M758.5,388.6V438.8M759.5,390.6V436.1M760.5,390.2V434.0M761.5,388.9V434.3M762.5,386.4V436.5M763.5,389.4V438.4M764.5,389.2V440.7M765.5,388.2V438.2M766.5,387.1V433.6M767.5,387.7V439.9M768.5,385.5V445.3M769.5,383.0V444.1M770.5,380.9V435.0M771.5,382.3V438.6M772.5,381.8V448.0M773.5,381.1V451.6M774.5,385.4V449.1M775.5,387.9V438.5M776.5,394.1V438.1M777.5,392.7V436.7M778.5,394.2V435.4M779.5,389.9V432.7M780.5,391.2V433.0M781.5,387.3V443.7M782.5,384.0V444.4M783.5,382.3V442.7M784.5,385.7V444.5M785.5,391.8V445.3M786.5,394.3V439.6M787.5,393.9V433.8M788.5,389.9V433.8M789.5,391.6V443.2M790.5,393.1V444.1M791.5,393.8V442.7M792.5,391.1V446.7M793.5,387.2V444.4M794.5,390.8V449.0M795.5,391.6V443.0M796.5,393.3V447.6M797.5,391.6V446.6M798.5,391.7V446.4M799.5,391.3V443.4M800.5,388.5V437.8M801.5,385.7V435.0M802.5,383.5V434.6M803.5,386.5V439.1M804.5,392.7V440.5M805.5,392.8V439.0M806.5,392.4V444.4M807.5,389.4V449.6M808.5,390.7V444.1M809.5,390.9V439.5M810.5,388.4V431.4M811.5,392.3V430.0M812.5,391.0V431.5M813.5,393.2V431.9M814.5,454.0V488.5M815.5,459.5V488.5M816.5,458.3V488.5M817.5,458.8V488.5M818.5,454.2V488.5M819.5,460.4V488.5M820.5,464.9V488.5M821.5,461.1V488.5M822.5,457.9V488.5M823.5,459.1V488.5M824.5,461.5V488.5M825.5,460.1V488.5M826.5,466.5V488.5M827.5,455.7V488.5M828.5,464.2V488.5M829.5,464.8V488.5M830.5,466.5V488.5M831.5,458.1V488.5M832.5,467.2V488.5M833.5,463.0V488.5M834.5,457.6V488.5M835.5,457.2V488.5M836.5,460.5V488.5M837.5,462.5V488.5M838.5,460.0V488.5M839.5,466.6V488.5M840.5,458.8V488.5M841.5,458.1V488.5M842.5,458.3V488.5M843.5,467.3V488.5M844.5,467.9V488.5M845.5,462.4V488.5M846.5,464.8V488.5M847.5,459.3V488.5M848.5,466.9V488.5M849.5,469.7V488.5M850.5,468.7V488.5M851.5,466.7V488.5M852.5,459.9V488.5M853.5,467.6V488.5M854.5,461.2V488.5M855.5,468.9V488.5M856.5,467.0V488.5M857.5,465.3V488.5M858.5,467.0V488.5M859.5,461.3V488.5M860.5,468.7V488.5M861.5,463.6V488.5M862.5,468.3V488.5" stroke="#000" stroke-width="1.3" fill="none"/><path d="M540.5,325.2V344.3M541.5,326.5V344.4M543.5,323.6V344.5M549.5,391.8V426.4M551.5,391.9V426.2M552.5,332.8V345.2M555.5,392.2V435.4M556.5,392.3V443.7M559.5,334.8V345.8M559.5,392.5V450.8M562.5,392.7V435.3M564.5,392.8V412.5M565.5,392.8V412.7M568.5,325.7V346.5M568.5,393.0V477.1M569.5,393.1V410.9M570.5,393.2V453.2M572.5,393.3V415.8M573.5,393.4V419.9M577.5,393.6V448.1M582.5,329.1V347.6M582.5,393.9V435.9M584.5,330.7V347.8M588.5,328.1V348.1M589.5,330.6V348.2M590.5,335.8V348.2M591.5,394.5V413.2M598.5,334.8V348.9M599.5,395.0V435.2M600.5,339.0V349.0M600.5,395.1V446.2M601.5,329.1V349.1M602.5,395.2V430.1M604.5,395.4V456.3M607.5,395.6V432.1M609.5,329.7V349.7M609.5,395.7V456.1M610.5,395.8V426.8M611.5,395.8V450.9M612.5,395.9V439.9M614.5,337.3V350.1M615.5,338.8V350.2M617.5,396.2V456.2M622.5,334.3V350.8M623.5,396.6V455.8M627.5,396.9V450.3M630.5,397.1V418.8M631.5,397.1V425.3M632.5,397.2V439.7M633.5,333.5V351.6M635.5,337.7V351.8M635.5,397.4V427.7M637.5,333.4V352.0M645.5,398.0V420.6M646.5,398.1V440.2M647.5,340.8V352.7M647.5,398.2V484.5M648.5,398.2V450.5M650.5,334.0V353.0M650.5,398.3V453.7M652.5,340.3V353.1M652.5,398.5V451.9M653.5,339.5V353.2M655.5,334.0V353.4M655.5,398.7V438.3M656.5,341.5V353.5M658.5,398.9V425.6M659.5,398.9V446.9M661.5,344.5V353.9M663.5,399.2V427.2M664.5,341.0V354.1M664.5,399.3V444.5M667.5,342.9V354.3M668.5,399.5V450.9M670.5,337.5V354.6M670.5,399.6V418.7M672.5,399.8V424.5M674.5,399.9V422.1M676.5,428.0V454.8M677.5,363.1V382.2M679.5,370.7V382.4M681.5,362.4V382.6M681.5,428.4V477.3M682.5,428.5V466.5M686.5,372.2V383.1M688.5,428.9V480.8M689.5,366.1V383.4M691.5,366.4V383.6M694.5,429.3V488.5M695.5,429.4V451.1M700.5,370.1V384.5M701.5,374.6V384.6M703.5,373.3V384.8M704.5,430.1V480.5M707.5,430.3V459.5M708.5,430.4V454.1M712.5,368.9V385.7M712.5,430.6V492.5M714.5,430.8V456.8M715.5,368.2V386.0M717.5,372.5V386.2M718.5,431.1V455.3M719.5,370.0V386.4M721.5,377.2V386.6M722.5,431.4V472.2M724.5,372.5V386.9M725.5,431.6V464.4M726.5,431.7V488.5M731.5,432.0V490.1M735.5,432.3V472.3M737.5,432.5V488.5M740.5,432.7V458.9M744.5,433.0V489.0M745.5,433.0V470.2M747.5,433.2V452.4M748.5,433.3V471.4M749.5,369.0V389.5M750.5,369.8V389.6M751.5,433.5V450.9M752.5,433.5V460.1M753.5,433.6V484.3M755.5,433.8V486.8M757.5,433.9V486.5M758.5,434.0V451.5M759.5,434.1V461.0M761.5,434.2V453.7M764.5,434.4V479.6M765.5,434.5V464.9M770.5,434.8V488.5M771.5,373.6V391.7M772.5,435.0V488.5M773.5,373.7V391.9M773.5,435.1V487.2M774.5,382.7V392.0M774.5,435.1V458.0M775.5,435.2V465.9M778.5,383.4V392.4M779.5,435.5V465.3M780.5,374.7V392.6M780.5,435.6V479.6M783.5,375.9V392.9M783.5,435.8V488.5M785.5,435.9V472.9M787.5,436.1V452.3M788.5,372.5V393.4M790.5,436.3V486.4M791.5,381.3V393.7M791.5,436.4V483.0M792.5,436.4V488.5M793.5,381.4V393.9M793.5,436.5V462.7M797.5,436.8V494.6M802.5,375.6V394.8M802.5,437.2V463.2M803.5,437.2V477.1M804.5,386.9V395.0M805.5,375.3V395.1M805.5,437.4V458.9M806.5,437.5V483.1M807.5,378.3V395.3M812.5,376.6V395.8M813.5,385.0V395.9M813.5,438.0V488.5M816.5,448.6V462.3M817.5,449.1V462.8M821.5,453.3V465.1M830.5,455.5V470.5M835.5,450.2V461.2M841.5,451.7V462.1M842.5,450.4V462.3M844.5,461.1V471.9M847.5,454.0V463.3M851.5,462.7V470.7M853.5,462.1V471.6M857.5,457.7V469.3M862.5,459.3V472.3M499.7,359.0V488.5M503.0,399.0V488.5M537.5,296.4V488.5M814.0,330.0V488.5" stroke="#000" stroke-width="2" fill="none"/></g>
<g fill="#e60082"><circle cx="616.5" cy="369.9" r="4.6"/><circle cx="610.1" cy="374.5" r="4.6"/><circle cx="665.0" cy="368.4" r="4.6"/><circle cx="538.5" cy="360.1" r="4.6"/><circle cx="590.3" cy="360.2" r="4.6"/><circle cx="619.6" cy="365.7" r="4.6"/><circle cx="594.3" cy="373.5" r="4.6"/><circle cx="648.8" cy="370.7" r="4.6"/><circle cx="663.2" cy="367.1" r="4.6"/><circle cx="666.7" cy="369.6" r="4.6"/><circle cx="545.6" cy="367.1" r="4.6"/><circle cx="605.6" cy="379.1" r="4.6"/><circle cx="542.8" cy="354.3" r="4.6"/><circle cx="642.1" cy="365.9" r="4.6"/><circle cx="539.4" cy="372.2" r="4.6"/><circle cx="628.4" cy="369.0" r="4.6"/><circle cx="561.9" cy="359.9" r="4.6"/><circle cx="624.8" cy="372.9" r="4.6"/><circle cx="648.4" cy="377.7" r="4.6"/><circle cx="581.6" cy="369.7" r="4.6"/><circle cx="621.6" cy="355.1" r="4.6"/><circle cx="584.8" cy="376.5" r="4.6"/><circle cx="623.4" cy="355.2" r="4.6"/><circle cx="610.8" cy="371.0" r="4.6"/><circle cx="568.5" cy="370.2" r="4.6"/><circle cx="578.5" cy="373.8" r="4.6"/><circle cx="571.7" cy="382.4" r="4.6"/><circle cx="565.4" cy="368.2" r="4.6"/><circle cx="631.6" cy="377.3" r="4.6"/><circle cx="627.4" cy="375.6" r="4.6"/><circle cx="655.7" cy="363.5" r="4.6"/><circle cx="611.5" cy="360.8" r="4.6"/><circle cx="566.0" cy="367.4" r="4.6"/><circle cx="565.3" cy="372.0" r="4.6"/><circle cx="563.6" cy="362.6" r="4.6"/><circle cx="558.6" cy="360.5" r="4.6"/><circle cx="560.0" cy="371.5" r="4.6"/><circle cx="557.9" cy="363.0" r="4.6"/><circle cx="666.3" cy="375.6" r="4.6"/><circle cx="614.0" cy="359.7" r="4.6"/><circle cx="594.2" cy="361.0" r="4.6"/><circle cx="634.4" cy="370.1" r="4.6"/><circle cx="571.5" cy="357.4" r="4.6"/><circle cx="649.7" cy="372.5" r="4.6"/><circle cx="581.2" cy="369.7" r="4.6"/><circle cx="557.7" cy="367.0" r="4.6"/><circle cx="624.4" cy="376.0" r="4.6"/><circle cx="640.4" cy="385.0" r="4.6"/><circle cx="607.5" cy="378.5" r="4.6"/><circle cx="538.7" cy="354.0" r="4.6"/><circle cx="562.0" cy="354.4" r="4.6"/><circle cx="638.4" cy="378.0" r="4.6"/><circle cx="669.8" cy="375.8" r="4.6"/><circle cx="600.8" cy="368.2" r="4.6"/><circle cx="600.7" cy="373.9" r="4.6"/><circle cx="545.8" cy="362.5" r="4.6"/><circle cx="557.1" cy="380.1" r="4.6"/><circle cx="582.1" cy="372.7" r="4.6"/><circle cx="553.9" cy="361.6" r="4.6"/><circle cx="626.2" cy="357.6" r="4.6"/><circle cx="633.3" cy="371.7" r="4.6"/><circle cx="555.6" cy="364.6" r="4.6"/><circle cx="558.6" cy="362.8" r="4.6"/><circle cx="599.9" cy="372.7" r="4.6"/><circle cx="600.9" cy="366.3" r="4.6"/><circle cx="586.8" cy="376.3" r="4.6"/><circle cx="568.5" cy="362.6" r="4.6"/><circle cx="578.2" cy="374.1" r="4.6"/><circle cx="585.0" cy="365.7" r="4.6"/><circle cx="655.6" cy="370.2" r="4.6"/><circle cx="580.8" cy="371.6" r="4.6"/><circle cx="666.5" cy="370.1" r="4.6"/><circle cx="569.6" cy="365.9" r="4.6"/><circle cx="634.9" cy="374.6" r="4.6"/><circle cx="663.2" cy="368.2" r="4.6"/><circle cx="623.6" cy="370.1" r="4.6"/><circle cx="606.4" cy="370.9" r="4.6"/><circle cx="556.2" cy="362.8" r="4.6"/><circle cx="550.7" cy="376.5" r="4.6"/><circle cx="669.8" cy="373.4" r="4.6"/><circle cx="655.4" cy="375.8" r="4.6"/><circle cx="576.0" cy="364.5" r="4.6"/><circle cx="563.0" cy="372.9" r="4.6"/><circle cx="616.0" cy="359.5" r="4.6"/><circle cx="572.6" cy="366.6" r="4.6"/><circle cx="611.4" cy="363.1" r="4.6"/><circle cx="600.8" cy="367.5" r="4.6"/><circle cx="665.4" cy="364.7" r="4.6"/><circle cx="538.9" cy="371.0" r="4.6"/><circle cx="538.8" cy="372.2" r="4.6"/><circle cx="615.0" cy="373.5" r="4.6"/><circle cx="656.1" cy="365.5" r="4.6"/><circle cx="609.1" cy="363.1" r="4.6"/><circle cx="631.7" cy="365.0" r="4.6"/><circle cx="546.5" cy="363.1" r="4.6"/><circle cx="666.9" cy="370.4" r="4.6"/><circle cx="543.1" cy="363.2" r="4.6"/><circle cx="612.7" cy="363.0" r="4.6"/><circle cx="625.7" cy="380.0" r="4.6"/><circle cx="588.3" cy="371.0" r="4.6"/><circle cx="559.2" cy="369.7" r="4.6"/><circle cx="588.9" cy="366.4" r="4.6"/><circle cx="615.4" cy="365.8" r="4.6"/><circle cx="642.3" cy="374.8" r="4.6"/><circle cx="576.8" cy="357.1" r="4.6"/><circle cx="619.1" cy="376.1" r="4.6"/><circle cx="591.5" cy="357.0" r="4.6"/><circle cx="545.5" cy="377.9" r="4.6"/><circle cx="566.3" cy="352.2" r="4.6"/><circle cx="608.1" cy="369.1" r="4.6"/><circle cx="663.8" cy="376.8" r="4.6"/><circle cx="555.3" cy="369.3" r="4.6"/><circle cx="627.3" cy="370.4" r="4.6"/><circle cx="640.9" cy="369.4" r="4.6"/><circle cx="583.5" cy="370.0" r="4.6"/><circle cx="624.8" cy="376.5" r="4.6"/><circle cx="562.7" cy="364.8" r="4.6"/><circle cx="623.6" cy="357.4" r="4.6"/><circle cx="599.9" cy="373.7" r="4.6"/><circle cx="545.7" cy="357.8" r="4.6"/><circle cx="663.9" cy="364.7" r="4.6"/><circle cx="585.0" cy="372.2" r="4.6"/><circle cx="556.6" cy="355.8" r="4.6"/><circle cx="641.8" cy="370.9" r="4.6"/><circle cx="538.6" cy="360.8" r="4.6"/><circle cx="574.0" cy="355.6" r="4.6"/><circle cx="642.3" cy="371.8" r="4.6"/><circle cx="609.2" cy="361.2" r="4.6"/><circle cx="600.4" cy="375.4" r="4.6"/><circle cx="620.7" cy="371.9" r="4.6"/><circle cx="573.7" cy="352.6" r="4.6"/><circle cx="628.5" cy="373.9" r="4.6"/><circle cx="614.0" cy="370.0" r="4.6"/><circle cx="612.1" cy="365.6" r="4.6"/><circle cx="630.2" cy="377.2" r="4.6"/><circle cx="607.7" cy="366.9" r="4.6"/><circle cx="545.4" cy="351.8" r="4.6"/><circle cx="545.6" cy="364.0" r="4.6"/><circle cx="655.0" cy="376.0" r="4.6"/><circle cx="547.5" cy="370.5" r="4.6"/><circle cx="582.0" cy="359.5" r="4.6"/><circle cx="616.8" cy="369.1" r="4.6"/><circle cx="635.5" cy="374.7" r="4.6"/><circle cx="643.3" cy="376.8" r="4.6"/><circle cx="554.2" cy="367.2" r="4.6"/><circle cx="664.7" cy="360.3" r="4.6"/><circle cx="548.5" cy="356.9" r="4.6"/><circle cx="624.2" cy="361.3" r="4.6"/><circle cx="648.3" cy="381.7" r="4.6"/><circle cx="622.5" cy="369.7" r="4.6"/><circle cx="585.9" cy="364.8" r="4.6"/><circle cx="657.8" cy="376.6" r="4.6"/><circle cx="614.3" cy="379.2" r="4.6"/><circle cx="578.3" cy="379.6" r="4.6"/><circle cx="638.9" cy="377.7" r="4.6"/><circle cx="566.2" cy="372.6" r="4.6"/><circle cx="633.2" cy="385.3" r="4.6"/><circle cx="549.9" cy="365.1" r="4.6"/><circle cx="630.1" cy="364.8" r="4.6"/><circle cx="644.4" cy="374.6" r="4.6"/><circle cx="559.4" cy="363.3" r="4.6"/><circle cx="628.8" cy="372.3" r="4.6"/><circle cx="567.9" cy="369.0" r="4.6"/><circle cx="554.0" cy="357.0" r="4.6"/><circle cx="647.7" cy="375.6" r="4.6"/><circle cx="789.1" cy="412.8" r="4.6"/><circle cx="727.6" cy="404.8" r="4.6"/><circle cx="798.5" cy="418.5" r="4.6"/><circle cx="785.7" cy="415.4" r="4.6"/><circle cx="771.3" cy="402.9" r="4.6"/><circle cx="769.4" cy="405.0" r="4.6"/><circle cx="682.7" cy="397.0" r="4.6"/><circle cx="726.1" cy="405.2" r="4.6"/><circle cx="773.0" cy="409.2" r="4.6"/><circle cx="704.9" cy="407.5" r="4.6"/><circle cx="725.0" cy="396.5" r="4.6"/><circle cx="802.8" cy="430.0" r="4.6"/><circle cx="778.6" cy="395.5" r="4.6"/><circle cx="790.2" cy="410.5" r="4.6"/><circle cx="762.7" cy="404.7" r="4.6"/><circle cx="783.5" cy="427.9" r="4.6"/><circle cx="753.4" cy="403.6" r="4.6"/><circle cx="727.8" cy="406.2" r="4.6"/><circle cx="798.6" cy="408.5" r="4.6"/><circle cx="760.4" cy="415.2" r="4.6"/><circle cx="788.0" cy="391.6" r="4.6"/><circle cx="706.7" cy="406.7" r="4.6"/><circle cx="751.5" cy="401.5" r="4.6"/><circle cx="689.2" cy="390.2" r="4.6"/><circle cx="689.0" cy="400.0" r="4.6"/><circle cx="724.8" cy="407.5" r="4.6"/><circle cx="794.6" cy="416.8" r="4.6"/><circle cx="796.9" cy="408.9" r="4.6"/><circle cx="688.4" cy="398.1" r="4.6"/><circle cx="730.2" cy="389.2" r="4.6"/><circle cx="741.9" cy="394.1" r="4.6"/><circle cx="782.3" cy="409.8" r="4.6"/><circle cx="704.1" cy="414.5" r="4.6"/><circle cx="779.9" cy="420.0" r="4.6"/><circle cx="805.1" cy="412.5" r="4.6"/><circle cx="793.2" cy="425.5" r="4.6"/><circle cx="741.9" cy="402.3" r="4.6"/><circle cx="780.8" cy="407.8" r="4.6"/><circle cx="771.7" cy="394.6" r="4.6"/><circle cx="728.8" cy="402.3" r="4.6"/><circle cx="790.2" cy="423.7" r="4.6"/><circle cx="704.7" cy="385.1" r="4.6"/><circle cx="717.1" cy="412.2" r="4.6"/><circle cx="726.9" cy="411.6" r="4.6"/><circle cx="710.9" cy="398.1" r="4.6"/><circle cx="689.0" cy="399.4" r="4.6"/><circle cx="751.3" cy="409.4" r="4.6"/><circle cx="807.6" cy="412.6" r="4.6"/><circle cx="784.5" cy="417.5" r="4.6"/><circle cx="691.2" cy="391.6" r="4.6"/><circle cx="751.5" cy="395.8" r="4.6"/><circle cx="719.9" cy="396.1" r="4.6"/><circle cx="792.5" cy="400.3" r="4.6"/><circle cx="805.4" cy="413.5" r="4.6"/><circle cx="797.4" cy="403.4" r="4.6"/><circle cx="681.4" cy="390.4" r="4.6"/><circle cx="711.0" cy="409.5" r="4.6"/><circle cx="707.5" cy="410.4" r="4.6"/><circle cx="774.4" cy="392.2" r="4.6"/><circle cx="710.7" cy="406.1" r="4.6"/><circle cx="803.9" cy="396.2" r="4.6"/><circle cx="692.9" cy="395.5" r="4.6"/><circle cx="704.2" cy="399.5" r="4.6"/><circle cx="717.4" cy="399.9" r="4.6"/><circle cx="732.3" cy="396.5" r="4.6"/><circle cx="712.5" cy="398.0" r="4.6"/><circle cx="726.3" cy="407.3" r="4.6"/><circle cx="709.4" cy="411.2" r="4.6"/><circle cx="711.4" cy="412.1" r="4.6"/><circle cx="721.2" cy="394.8" r="4.6"/><circle cx="689.1" cy="405.7" r="4.6"/><circle cx="697.0" cy="396.5" r="4.6"/><circle cx="773.7" cy="411.7" r="4.6"/><circle cx="804.1" cy="408.8" r="4.6"/><circle cx="711.2" cy="403.5" r="4.6"/><circle cx="802.7" cy="427.1" r="4.6"/><circle cx="788.5" cy="412.2" r="4.6"/><circle cx="685.2" cy="398.0" r="4.6"/><circle cx="767.9" cy="396.3" r="4.6"/><circle cx="748.1" cy="406.0" r="4.6"/><circle cx="794.1" cy="405.1" r="4.6"/><circle cx="689.3" cy="401.6" r="4.6"/><circle cx="773.4" cy="409.0" r="4.6"/><circle cx="733.0" cy="396.2" r="4.6"/><circle cx="748.2" cy="396.5" r="4.6"/><circle cx="727.2" cy="390.9" r="4.6"/><circle cx="809.3" cy="411.6" r="4.6"/><circle cx="775.0" cy="406.5" r="4.6"/><circle cx="697.7" cy="407.8" r="4.6"/><circle cx="716.1" cy="398.1" r="4.6"/><circle cx="803.4" cy="423.7" r="4.6"/><circle cx="747.8" cy="407.5" r="4.6"/><circle cx="686.0" cy="392.4" r="4.6"/><circle cx="744.8" cy="390.8" r="4.6"/><circle cx="759.1" cy="405.3" r="4.6"/><circle cx="738.0" cy="401.7" r="4.6"/><circle cx="757.8" cy="403.1" r="4.6"/><circle cx="733.2" cy="400.4" r="4.6"/><circle cx="708.4" cy="398.2" r="4.6"/><circle cx="724.5" cy="400.1" r="4.6"/><circle cx="778.9" cy="414.5" r="4.6"/><circle cx="792.5" cy="407.7" r="4.6"/><circle cx="708.8" cy="401.1" r="4.6"/><circle cx="722.7" cy="396.7" r="4.6"/><circle cx="686.4" cy="412.5" r="4.6"/><circle cx="790.2" cy="413.7" r="4.6"/><circle cx="804.5" cy="413.0" r="4.6"/><circle cx="705.0" cy="393.8" r="4.6"/><circle cx="762.7" cy="400.4" r="4.6"/><circle cx="766.4" cy="414.9" r="4.6"/><circle cx="780.5" cy="402.6" r="4.6"/><circle cx="778.0" cy="403.8" r="4.6"/><circle cx="806.1" cy="410.5" r="4.6"/><circle cx="688.8" cy="404.2" r="4.6"/><circle cx="802.5" cy="418.8" r="4.6"/><circle cx="706.0" cy="392.9" r="4.6"/><circle cx="744.8" cy="399.0" r="4.6"/><circle cx="782.6" cy="414.4" r="4.6"/><circle cx="731.9" cy="398.5" r="4.6"/><circle cx="753.4" cy="395.3" r="4.6"/><circle cx="736.5" cy="394.1" r="4.6"/><circle cx="724.7" cy="400.2" r="4.6"/><circle cx="773.4" cy="401.5" r="4.6"/><circle cx="692.0" cy="387.0" r="4.6"/><circle cx="691.4" cy="396.7" r="4.6"/><circle cx="719.1" cy="405.5" r="4.6"/><circle cx="682.5" cy="394.7" r="4.6"/><circle cx="796.8" cy="416.0" r="4.6"/><circle cx="706.3" cy="382.7" r="4.6"/><circle cx="749.2" cy="395.5" r="4.6"/><circle cx="796.7" cy="421.2" r="4.6"/><circle cx="697.8" cy="414.0" r="4.6"/><circle cx="740.9" cy="405.9" r="4.6"/><circle cx="692.8" cy="405.4" r="4.6"/><circle cx="728.6" cy="404.0" r="4.6"/><circle cx="553.1" cy="342.4" r="4.6"/></g>
<line x1="488.5" y1="356.5" x2="862.5" y2="398.5" stroke="#f7b4d5" stroke-width="3"/>
<line x1="488.5" y1="377.7" x2="862.5" y2="418.3" stroke="#f7b4d5" stroke-width="3"/>
<line x1="702.6" y1="381" x2="702.6" y2="389.6" stroke="#f8c4dc" stroke-width="2.4"/>
<polygon points="698.9,387.1 706.3000000000001,387.1 702.6,399.6" fill="#f8c4dc"/>
<path d="M487,273.8H497.5M487,309.6H497.5M487,345.4H497.5M487,381.1H497.5M487,416.9H497.5M487,452.7H497.5M487,238H497.5M612.3,488.5V478.5M737.6,488.5V478.5" stroke="#000" stroke-width="3.4"/>
<rect x="487" y="238" width="377" height="250.5" fill="none" stroke="#000" stroke-width="3.2"/>
<clipPath id="c3"><rect x="887.5" y="239.5" width="374.5" height="247.5"/></clipPath>
<g clip-path="url(#c3)"><path d="M888.5,486.8V488.5M889.5,486.6V488.5M890.5,486.8V488.5M891.5,486.9V488.5M892.5,486.8V488.5M893.5,486.6V488.5M894.5,486.9V488.5M895.5,486.9V488.5M896.5,487.0V488.5M897.5,486.7V488.5M898.5,486.7V488.5M899.5,486.3V488.5M900.5,486.5V488.5M901.5,486.1V488.5M902.5,486.5V488.5M903.5,486.5V488.5M904.5,484.8V488.5M905.5,481.3V488.5M906.5,479.1V488.5M907.5,483.1V488.5M908.5,486.8V488.5M909.5,486.5V488.5M910.5,485.1V488.5M911.5,477.7V488.5M912.5,477.3V488.5M913.5,483.4V488.5M914.5,486.9V488.5M915.5,484.6V488.5M916.5,479.4V488.5M917.5,479.8V488.5M918.5,485.2V488.5M919.5,485.3V488.5M920.5,481.5V488.5M921.5,473.6V488.5M922.5,474.2V488.5M923.5,480.4V488.5M924.5,479.2V488.5M925.5,470.3V488.5M926.5,474.9V488.5M927.5,478.9V488.5M928.5,459.4V488.5M929.5,442.6V488.5M930.5,429.2V488.5M931.5,407.4V467.4M932.5,395.1V455.1M933.5,375.0V435.0M934.5,360.8V420.8M935.5,344.9V404.9M936.5,333.1V391.3M937.5,334.5V388.1M938.5,335.8V388.0M939.5,333.4V390.6M940.5,332.9V390.5M941.5,328.9V396.2M942.5,331.6V394.5M943.5,332.1V397.1M944.5,333.6V389.2M945.5,332.6V394.9M946.5,330.1V386.6M947.5,334.3V388.4M948.5,330.7V388.8M949.5,330.8V392.9M950.5,330.8V394.7M951.5,336.4V390.9M952.5,334.3V394.0M953.5,332.2V396.6M954.5,330.8V398.1M955.5,333.6V400.3M956.5,337.3V398.0M957.5,334.7V396.5M958.5,336.4V390.9M959.5,331.9V397.6M960.5,336.5V402.8M961.5,335.9V409.2M962.5,337.1V405.0M963.5,331.7V401.0M964.5,334.7V399.6M965.5,336.7V398.3M966.5,341.1V401.8M967.5,340.2V401.4M968.5,339.6V400.4M969.5,337.2V397.2M970.5,333.8V394.3M971.5,331.8V402.9M972.5,335.4V412.4M973.5,334.3V412.5M974.5,334.7V406.5M975.5,331.8V389.4M976.5,334.8V390.5M977.5,336.9V390.5M978.5,335.3V394.8M979.5,332.0V396.8M980.5,331.0V391.4M981.5,335.4V394.4M982.5,339.8V392.2M983.5,340.2V393.4M984.5,337.6V397.2M985.5,336.8V400.5M986.5,336.1V400.0M987.5,338.1V392.1M988.5,336.2V390.5M989.5,337.0V395.4M990.5,335.4V396.1M991.5,337.8V393.0M992.5,338.0V392.7M993.5,342.7V396.5M994.5,344.4V400.5M995.5,346.7V402.3M996.5,338.7V409.1M997.5,335.5V411.1M998.5,331.9V412.1M999.5,336.4V409.7M1000.5,333.1V409.6M1001.5,336.3V409.7M1002.5,337.3V401.7M1003.5,339.0V400.1M1004.5,335.3V397.9M1005.5,332.1V408.0M1006.5,334.5V405.3M1007.5,337.4V406.9M1008.5,342.4V402.4M1009.5,342.0V408.1M1010.5,342.3V406.9M1011.5,339.0V404.8M1012.5,342.5V400.0M1013.5,342.5V397.9M1014.5,344.7V399.5M1015.5,339.8V398.4M1016.5,338.2V400.9M1017.5,334.4V407.2M1018.5,339.0V405.8M1019.5,340.5V405.0M1020.5,341.5V397.6M1021.5,338.1V401.5M1022.5,337.8V397.2M1023.5,337.2V395.5M1024.5,336.4V393.1M1025.5,336.5V399.2M1026.5,342.1V401.5M1027.5,343.3V399.9M1028.5,341.5V395.0M1029.5,335.2V397.0M1030.5,333.4V403.9M1031.5,335.3V408.1M1032.5,338.9V407.0M1033.5,341.3V403.5M1034.5,341.0V399.1M1035.5,339.8V397.4M1036.5,340.1V395.0M1037.5,336.8V399.3M1038.5,335.9V400.4M1039.5,335.9V397.1M1040.5,337.2V400.0M1041.5,337.3V406.2M1042.5,335.7V409.6M1043.5,336.5V407.0M1044.5,338.9V402.1M1045.5,339.7V405.8M1046.5,340.0V399.2M1047.5,340.0V404.0M1048.5,341.9V399.6M1049.5,345.2V409.3M1050.5,340.2V404.0M1051.5,340.6V404.3M1052.5,336.8V399.4M1053.5,340.8V402.3M1054.5,340.8V400.7M1055.5,343.6V399.9M1056.5,345.2V395.1M1057.5,344.1V392.2M1058.5,345.0V398.1M1059.5,342.8V401.9M1060.5,342.3V407.9M1061.5,340.9V407.4M1062.5,340.5V402.1M1063.5,344.6V401.9M1064.5,345.0V404.0M1065.5,349.9V410.8M1066.5,346.1V403.3M1067.5,343.7V385.5M1068.5,340.2V378.5M1069.5,341.6V390.1M1070.5,341.3V400.2M1071.5,341.7V403.1M1072.5,340.4V401.6M1073.5,344.3V400.2M1074.5,342.6V401.7M1075.5,344.5V402.4M1076.5,378.6V440.2M1077.5,378.1V440.9M1078.5,375.0V436.1M1079.5,374.1V436.3M1080.5,376.1V433.5M1081.5,379.2V440.3M1082.5,381.6V447.6M1083.5,382.5V446.6M1084.5,383.6V434.4M1085.5,383.8V423.9M1086.5,383.1V427.9M1087.5,379.8V439.4M1088.5,376.6V444.7M1089.5,377.6V440.7M1090.5,375.1V434.3M1091.5,379.1V435.0M1092.5,377.8V434.0M1093.5,382.9V440.7M1094.5,381.6V435.5M1095.5,380.3V442.2M1096.5,379.0V440.9M1097.5,378.1V444.5M1098.5,379.3V444.7M1099.5,378.8V438.9M1100.5,379.6V437.2M1101.5,379.6V434.5M1102.5,378.1V439.1M1103.5,378.1V442.5M1104.5,374.7V441.6M1105.5,375.9V438.0M1106.5,374.2V431.2M1107.5,380.0V431.1M1108.5,382.5V436.4M1109.5,381.2V436.1M1110.5,379.6V441.4M1111.5,377.2V439.8M1112.5,378.8V442.0M1113.5,379.5V433.3M1114.5,379.0V433.2M1115.5,377.8V436.5M1116.5,376.4V435.0M1117.5,377.0V438.4M1118.5,380.3V441.9M1119.5,378.7V449.4M1120.5,380.1V447.0M1121.5,381.2V449.7M1122.5,381.4V453.0M1123.5,379.2V448.1M1124.5,377.8V439.7M1125.5,378.9V434.8M1126.5,383.1V437.5M1127.5,383.7V429.4M1128.5,383.0V432.6M1129.5,378.6V431.0M1130.5,378.1V440.0M1131.5,384.0V436.9M1132.5,385.1V442.3M1133.5,385.5V440.7M1134.5,382.4V438.5M1135.5,382.7V437.4M1136.5,386.5V443.4M1137.5,384.7V445.2M1138.5,386.1V448.2M1139.5,382.4V444.3M1140.5,384.5V443.6M1141.5,381.2V444.2M1142.5,384.0V440.5M1143.5,382.8V446.0M1144.5,384.9V438.9M1145.5,380.3V443.5M1146.5,379.2V435.6M1147.5,380.2V434.5M1148.5,383.6V436.7M1149.5,386.3V441.8M1150.5,387.4V445.0M1151.5,387.0V439.8M1152.5,385.8V440.7M1153.5,385.2V435.8M1154.5,385.0V433.4M1155.5,384.8V431.4M1156.5,384.7V433.4M1157.5,385.9V435.0M1158.5,386.6V435.4M1159.5,384.7V437.9M1160.5,383.7V439.6M1161.5,386.7V445.8M1162.5,387.0V449.9M1163.5,385.6V455.1M1164.5,382.1V449.2M1165.5,384.7V444.0M1166.5,381.6V434.6M1167.5,382.6V433.6M1168.5,382.6V428.1M1169.5,384.4V431.2M1170.5,386.4V435.2M1171.5,385.3V448.3M1172.5,385.8V453.8M1173.5,383.6V448.2M1174.5,380.0V444.3M1175.5,380.0V438.2M1176.5,382.9V444.2M1177.5,384.1V442.1M1178.5,388.4V448.0M1179.5,385.1V454.2M1180.5,388.4V457.9M1181.5,385.3V463.2M1182.5,381.6V454.9M1183.5,378.8V450.5M1184.5,379.1V447.1M1185.5,381.1V452.6M1186.5,379.8V451.9M1187.5,380.1V447.5M1188.5,381.1V436.5M1189.5,380.5V437.8M1190.5,378.7V440.7M1191.5,381.4V445.5M1192.5,383.6V444.3M1193.5,386.5V436.3M1194.5,387.7V438.0M1195.5,388.6V442.9M1196.5,385.0V450.0M1197.5,380.1V449.7M1198.5,380.1V442.5M1199.5,383.6V446.6M1200.5,386.4V445.6M1201.5,387.5V449.7M1202.5,385.2V446.1M1203.5,385.3V438.8M1204.5,383.6V439.1M1205.5,383.8V436.1M1206.5,381.1V445.1M1207.5,379.2V450.2M1208.5,378.9V452.4M1209.5,379.3V444.7M1210.5,380.4V438.8M1211.5,382.5V438.0M1212.5,384.3V445.0M1213.5,447.7V488.5M1214.5,455.5V488.5M1215.5,449.3V488.5M1216.5,456.8V488.5M1217.5,450.4V488.5M1218.5,451.8V488.5M1219.5,454.6V488.5M1220.5,457.6V488.5M1221.5,449.0V488.5M1222.5,453.9V488.5M1223.5,460.4V488.5M1224.5,456.6V488.5M1225.5,450.8V488.5M1226.5,457.5V488.5M1227.5,461.6V488.5M1228.5,450.7V488.5M1229.5,462.6V488.5M1230.5,460.8V488.5M1231.5,457.6V488.5M1232.5,454.0V488.5M1233.5,452.8V488.5M1234.5,452.8V488.5M1235.5,455.9V488.5M1236.5,460.1V488.5M1237.5,461.6V488.5M1238.5,464.4V488.5M1239.5,456.2V488.5M1240.5,456.5V488.5M1241.5,462.6V488.5M1242.5,454.6V488.5M1243.5,455.4V488.5M1244.5,455.2V488.5M1245.5,455.7V488.5M1246.5,457.4V488.5M1247.5,456.3V488.5M1248.5,464.7V488.5M1249.5,462.9V488.5M1250.5,462.0V488.5M1251.5,467.9V488.5M1252.5,468.7V488.5M1253.5,464.5V488.5M1254.5,458.7V488.5M1255.5,467.8V488.5M1256.5,463.0V488.5M1257.5,460.0V488.5M1258.5,468.5V488.5M1259.5,461.1V488.5M1260.5,462.4V488.5M1261.5,459.7V488.5" stroke="#000" stroke-width="1.3" fill="none"/><path d="M936.5,392.0V419.6M937.5,392.1V428.6M942.5,330.1V338.3M942.5,392.3V423.5M943.5,392.3V426.7M945.5,392.4V412.6M948.5,329.7V338.6M948.5,392.5V421.5M949.5,392.6V438.3M953.5,392.8V453.5M958.5,321.8V339.1M964.5,393.2V430.3M965.5,322.0V339.5M970.5,393.5V437.1M971.5,325.8V339.8M976.5,393.7V418.0M979.5,393.9V457.0M985.5,394.1V422.2M988.5,328.6V340.6M988.5,394.2V418.8M989.5,394.3V455.5M990.5,394.3V448.2M991.5,326.1V340.8M991.5,394.4V418.7M993.5,330.2V340.9M997.5,326.2V341.1M997.5,394.6V435.8M998.5,394.7V415.4M1002.5,323.3V341.3M1003.5,394.9V425.9M1006.5,395.0V420.2M1007.5,324.9V341.6M1008.5,323.7V341.6M1009.5,326.9V341.7M1010.5,321.4V341.7M1010.5,395.2V418.4M1013.5,328.0V341.9M1014.5,395.4V453.9M1015.5,328.7V342.0M1016.5,395.4V415.6M1018.5,395.5V432.0M1019.5,395.6V475.0M1021.5,395.7V440.6M1023.5,334.4V342.4M1025.5,331.1V342.5M1031.5,330.8V342.8M1031.5,396.1V442.7M1033.5,396.2V413.6M1034.5,323.3V342.9M1037.5,325.9V343.1M1038.5,328.6V343.1M1038.5,396.4V432.2M1045.5,396.7V459.9M1046.5,396.7V412.9M1052.5,328.4V343.8M1053.5,397.0V457.4M1055.5,324.0V344.0M1056.5,397.2V429.2M1058.5,330.1V344.1M1058.5,397.2V453.0M1064.5,397.5V429.2M1065.5,324.4V344.5M1067.5,397.6V419.6M1070.5,330.3V344.7M1070.5,397.8V420.1M1071.5,329.8V344.8M1073.5,333.9V344.9M1073.5,397.9V438.3M1074.5,397.9V457.2M1075.5,398.0V426.2M1076.5,431.0V467.6M1078.5,431.2V454.5M1082.5,431.5V486.4M1083.5,431.5V470.5M1086.5,431.8V460.4M1088.5,374.3V383.5M1088.5,431.9V452.5M1089.5,432.0V462.2M1091.5,432.1V466.6M1092.5,432.2V472.9M1093.5,375.6V383.8M1097.5,363.6V383.9M1098.5,370.2V384.0M1098.5,432.6V494.1M1099.5,432.7V491.9M1100.5,432.8V451.8M1101.5,370.5V384.1M1101.5,432.9V481.3M1102.5,432.9V450.8M1104.5,433.1V482.6M1105.5,433.2V467.4M1107.5,433.3V471.0M1108.5,373.5V384.4M1109.5,364.5V384.5M1113.5,366.5V384.6M1114.5,433.8V466.8M1118.5,368.8V384.9M1119.5,370.9V384.9M1121.5,434.3V474.3M1124.5,434.5V458.8M1125.5,434.6V472.4M1126.5,434.7V488.5M1129.5,372.1V385.3M1129.5,434.9V457.4M1130.5,435.0V479.5M1132.5,435.1V487.3M1135.5,435.3V490.8M1137.5,435.5V474.5M1139.5,370.8V385.8M1140.5,377.8V385.8M1143.5,376.4V386.0M1145.5,378.0V386.0M1146.5,436.1V464.6M1148.5,375.8V386.2M1148.5,436.3V497.7M1150.5,374.7V386.3M1153.5,436.7V459.5M1157.5,372.6V386.6M1157.5,436.9V488.5M1159.5,372.1V386.7M1160.5,437.2V469.9M1161.5,437.2V488.4M1163.5,437.4V491.8M1165.5,370.2V386.9M1167.5,437.7V467.5M1171.5,438.0V480.7M1173.5,378.1V387.3M1174.5,438.2V500.7M1175.5,367.2V387.4M1176.5,368.0V387.4M1178.5,438.5V468.8M1179.5,368.2V387.5M1179.5,438.6V459.5M1180.5,368.7V387.6M1180.5,438.6V501.1M1181.5,373.7V387.6M1181.5,438.7V463.4M1182.5,372.4V387.7M1182.5,438.8V471.1M1184.5,376.3V387.8M1185.5,439.0V459.9M1187.5,439.1V462.5M1189.5,379.0V388.0M1189.5,439.3V482.0M1190.5,376.0V388.0M1190.5,439.4V488.5M1192.5,439.5V488.5M1193.5,369.9V388.1M1193.5,439.6V462.3M1194.5,367.7V388.2M1195.5,439.7V495.8M1196.5,371.2V388.3M1197.5,439.9V502.7M1198.5,376.8V388.4M1199.5,440.0V468.9M1201.5,440.2V497.2M1202.5,440.2V477.2M1203.5,371.2V388.6M1204.5,440.4V492.1M1205.5,440.5V503.7M1206.5,440.5V493.3M1208.5,440.7V484.9M1209.5,376.1V388.8M1213.5,442.5V451.7M1216.5,449.0V460.8M1223.5,450.5V464.4M1227.5,455.1V465.6M1232.5,449.1V458.0M1233.5,449.4V456.8M1234.5,444.9V456.8M1239.5,444.5V460.2M1245.5,448.6V459.7M1246.5,451.1V461.4M1255.5,458.8V471.8M1256.5,458.1V467.0M898.4,357.0V488.5M902.0,395.0V488.5M936.7,275.0V488.5M1213.0,330.0V488.5" stroke="#000" stroke-width="2" fill="none"/></g>
<g fill="#e60082"><circle cx="983.2" cy="376.2" r="4.6"/><circle cx="952.9" cy="364.6" r="4.6"/><circle cx="1038.7" cy="381.3" r="4.6"/><circle cx="1018.4" cy="370.5" r="4.6"/><circle cx="1022.2" cy="363.5" r="4.6"/><circle cx="1047.4" cy="377.6" r="4.6"/><circle cx="997.0" cy="358.1" r="4.6"/><circle cx="1057.6" cy="375.1" r="4.6"/><circle cx="1008.4" cy="361.8" r="4.6"/><circle cx="996.8" cy="350.8" r="4.6"/><circle cx="1054.9" cy="370.7" r="4.6"/><circle cx="985.5" cy="372.8" r="4.6"/><circle cx="1044.2" cy="371.8" r="4.6"/><circle cx="1035.8" cy="383.8" r="4.6"/><circle cx="1022.5" cy="368.4" r="4.6"/><circle cx="1000.7" cy="364.4" r="4.6"/><circle cx="939.5" cy="354.3" r="4.6"/><circle cx="998.8" cy="351.8" r="4.6"/><circle cx="1021.9" cy="372.6" r="4.6"/><circle cx="1024.3" cy="383.1" r="4.6"/><circle cx="945.0" cy="354.8" r="4.6"/><circle cx="1005.2" cy="368.5" r="4.6"/><circle cx="978.8" cy="358.4" r="4.6"/><circle cx="964.5" cy="354.5" r="4.6"/><circle cx="1043.1" cy="383.2" r="4.6"/><circle cx="1063.7" cy="381.0" r="4.6"/><circle cx="1042.4" cy="364.8" r="4.6"/><circle cx="998.7" cy="357.7" r="4.6"/><circle cx="959.9" cy="372.6" r="4.6"/><circle cx="972.9" cy="357.8" r="4.6"/><circle cx="1026.1" cy="360.4" r="4.6"/><circle cx="1066.5" cy="358.2" r="4.6"/><circle cx="1057.4" cy="361.8" r="4.6"/><circle cx="1045.7" cy="360.1" r="4.6"/><circle cx="1042.8" cy="371.0" r="4.6"/><circle cx="1069.0" cy="366.3" r="4.6"/><circle cx="953.5" cy="366.3" r="4.6"/><circle cx="947.6" cy="358.7" r="4.6"/><circle cx="952.7" cy="373.1" r="4.6"/><circle cx="1043.5" cy="374.8" r="4.6"/><circle cx="984.0" cy="370.1" r="4.6"/><circle cx="979.7" cy="364.8" r="4.6"/><circle cx="939.0" cy="369.9" r="4.6"/><circle cx="1027.4" cy="367.0" r="4.6"/><circle cx="953.4" cy="363.3" r="4.6"/><circle cx="939.6" cy="358.0" r="4.6"/><circle cx="994.4" cy="360.8" r="4.6"/><circle cx="1010.5" cy="384.1" r="4.6"/><circle cx="1040.6" cy="364.9" r="4.6"/><circle cx="1048.0" cy="373.2" r="4.6"/><circle cx="1017.7" cy="355.8" r="4.6"/><circle cx="952.9" cy="352.5" r="4.6"/><circle cx="981.9" cy="352.9" r="4.6"/><circle cx="999.5" cy="360.5" r="4.6"/><circle cx="971.9" cy="368.8" r="4.6"/><circle cx="1039.3" cy="376.7" r="4.6"/><circle cx="942.6" cy="343.0" r="4.6"/><circle cx="990.1" cy="351.9" r="4.6"/><circle cx="942.0" cy="367.5" r="4.6"/><circle cx="938.8" cy="354.9" r="4.6"/><circle cx="1018.9" cy="366.2" r="4.6"/><circle cx="972.9" cy="350.7" r="4.6"/><circle cx="1060.4" cy="364.6" r="4.6"/><circle cx="1039.2" cy="367.2" r="4.6"/><circle cx="1031.0" cy="376.7" r="4.6"/><circle cx="954.2" cy="360.4" r="4.6"/><circle cx="976.9" cy="374.9" r="4.6"/><circle cx="1032.2" cy="371.4" r="4.6"/><circle cx="945.2" cy="373.0" r="4.6"/><circle cx="1000.0" cy="370.9" r="4.6"/><circle cx="997.1" cy="377.2" r="4.6"/><circle cx="942.1" cy="359.3" r="4.6"/><circle cx="964.3" cy="362.9" r="4.6"/><circle cx="960.6" cy="375.8" r="4.6"/><circle cx="999.1" cy="363.2" r="4.6"/><circle cx="969.6" cy="354.4" r="4.6"/><circle cx="1020.0" cy="376.7" r="4.6"/><circle cx="1021.2" cy="373.5" r="4.6"/><circle cx="1068.5" cy="387.6" r="4.6"/><circle cx="1006.8" cy="356.2" r="4.6"/><circle cx="1063.5" cy="369.1" r="4.6"/><circle cx="1047.2" cy="376.5" r="4.6"/><circle cx="960.6" cy="358.9" r="4.6"/><circle cx="1004.6" cy="356.8" r="4.6"/><circle cx="965.3" cy="370.4" r="4.6"/><circle cx="946.4" cy="364.5" r="4.6"/><circle cx="1043.2" cy="368.7" r="4.6"/><circle cx="1022.0" cy="362.0" r="4.6"/><circle cx="998.9" cy="362.4" r="4.6"/><circle cx="994.7" cy="366.5" r="4.6"/><circle cx="969.0" cy="379.1" r="4.6"/><circle cx="1041.0" cy="365.5" r="4.6"/><circle cx="1038.1" cy="364.1" r="4.6"/><circle cx="987.5" cy="358.0" r="4.6"/><circle cx="944.8" cy="361.3" r="4.6"/><circle cx="1063.7" cy="382.5" r="4.6"/><circle cx="1060.4" cy="365.0" r="4.6"/><circle cx="1041.1" cy="375.1" r="4.6"/><circle cx="1050.0" cy="365.8" r="4.6"/><circle cx="980.7" cy="364.2" r="4.6"/><circle cx="958.4" cy="360.4" r="4.6"/><circle cx="971.2" cy="367.9" r="4.6"/><circle cx="965.9" cy="346.4" r="4.6"/><circle cx="1037.5" cy="367.8" r="4.6"/><circle cx="938.0" cy="365.4" r="4.6"/><circle cx="1057.0" cy="383.1" r="4.6"/><circle cx="1004.3" cy="368.6" r="4.6"/><circle cx="966.6" cy="368.2" r="4.6"/><circle cx="971.1" cy="365.0" r="4.6"/><circle cx="993.6" cy="361.6" r="4.6"/><circle cx="954.7" cy="368.8" r="4.6"/><circle cx="940.5" cy="367.4" r="4.6"/><circle cx="1032.9" cy="388.2" r="4.6"/><circle cx="1040.1" cy="380.3" r="4.6"/><circle cx="1042.7" cy="378.5" r="4.6"/><circle cx="1018.6" cy="373.7" r="4.6"/><circle cx="1050.1" cy="374.6" r="4.6"/><circle cx="971.7" cy="366.3" r="4.6"/><circle cx="942.8" cy="370.9" r="4.6"/><circle cx="1026.9" cy="376.5" r="4.6"/><circle cx="1011.2" cy="361.3" r="4.6"/><circle cx="941.6" cy="365.3" r="4.6"/><circle cx="976.8" cy="364.6" r="4.6"/><circle cx="996.3" cy="375.0" r="4.6"/><circle cx="987.6" cy="358.1" r="4.6"/><circle cx="978.9" cy="354.8" r="4.6"/><circle cx="937.7" cy="355.1" r="4.6"/><circle cx="1006.9" cy="372.8" r="4.6"/><circle cx="943.6" cy="360.3" r="4.6"/><circle cx="938.2" cy="352.5" r="4.6"/><circle cx="984.4" cy="367.1" r="4.6"/><circle cx="1026.3" cy="365.0" r="4.6"/><circle cx="993.4" cy="367.8" r="4.6"/><circle cx="942.6" cy="371.0" r="4.6"/><circle cx="1052.4" cy="356.1" r="4.6"/><circle cx="974.2" cy="349.7" r="4.6"/><circle cx="971.4" cy="358.9" r="4.6"/><circle cx="1034.3" cy="374.6" r="4.6"/><circle cx="965.8" cy="371.0" r="4.6"/><circle cx="1016.9" cy="373.5" r="4.6"/><circle cx="984.9" cy="369.7" r="4.6"/><circle cx="1031.7" cy="360.9" r="4.6"/><circle cx="1045.3" cy="376.4" r="4.6"/><circle cx="947.7" cy="363.0" r="4.6"/><circle cx="1030.7" cy="376.7" r="4.6"/><circle cx="1006.3" cy="362.1" r="4.6"/><circle cx="1038.0" cy="353.7" r="4.6"/><circle cx="1010.0" cy="372.3" r="4.6"/><circle cx="1020.7" cy="364.8" r="4.6"/><circle cx="970.3" cy="371.0" r="4.6"/><circle cx="985.8" cy="357.1" r="4.6"/><circle cx="971.1" cy="365.6" r="4.6"/><circle cx="1053.0" cy="378.2" r="4.6"/><circle cx="1024.1" cy="370.0" r="4.6"/><circle cx="943.8" cy="367.3" r="4.6"/><circle cx="1067.2" cy="378.2" r="4.6"/><circle cx="984.2" cy="361.0" r="4.6"/><circle cx="939.3" cy="363.7" r="4.6"/><circle cx="940.8" cy="379.6" r="4.6"/><circle cx="942.1" cy="356.6" r="4.6"/><circle cx="995.7" cy="358.5" r="4.6"/><circle cx="943.3" cy="367.5" r="4.6"/><circle cx="1063.3" cy="372.2" r="4.6"/><circle cx="1032.6" cy="372.4" r="4.6"/><circle cx="942.4" cy="375.2" r="4.6"/><circle cx="1144.1" cy="404.0" r="4.6"/><circle cx="1139.0" cy="421.5" r="4.6"/><circle cx="1088.6" cy="403.3" r="4.6"/><circle cx="1134.6" cy="406.2" r="4.6"/><circle cx="1134.7" cy="419.9" r="4.6"/><circle cx="1114.3" cy="391.0" r="4.6"/><circle cx="1150.6" cy="388.2" r="4.6"/><circle cx="1141.6" cy="411.7" r="4.6"/><circle cx="1209.1" cy="430.1" r="4.6"/><circle cx="1172.9" cy="412.8" r="4.6"/><circle cx="1109.9" cy="408.3" r="4.6"/><circle cx="1127.4" cy="410.4" r="4.6"/><circle cx="1184.1" cy="421.3" r="4.6"/><circle cx="1079.9" cy="396.6" r="4.6"/><circle cx="1165.7" cy="405.2" r="4.6"/><circle cx="1187.0" cy="408.0" r="4.6"/><circle cx="1089.1" cy="403.1" r="4.6"/><circle cx="1168.9" cy="417.3" r="4.6"/><circle cx="1152.7" cy="397.5" r="4.6"/><circle cx="1107.7" cy="410.9" r="4.6"/><circle cx="1191.8" cy="402.2" r="4.6"/><circle cx="1168.7" cy="400.1" r="4.6"/><circle cx="1132.8" cy="396.8" r="4.6"/><circle cx="1168.2" cy="398.6" r="4.6"/><circle cx="1196.4" cy="407.5" r="4.6"/><circle cx="1124.6" cy="411.6" r="4.6"/><circle cx="1113.1" cy="406.3" r="4.6"/><circle cx="1165.8" cy="413.6" r="4.6"/><circle cx="1185.6" cy="409.0" r="4.6"/><circle cx="1205.9" cy="419.1" r="4.6"/><circle cx="1144.1" cy="407.0" r="4.6"/><circle cx="1097.6" cy="401.2" r="4.6"/><circle cx="1099.4" cy="392.3" r="4.6"/><circle cx="1079.0" cy="400.6" r="4.6"/><circle cx="1167.3" cy="400.4" r="4.6"/><circle cx="1161.0" cy="412.3" r="4.6"/><circle cx="1151.3" cy="402.4" r="4.6"/><circle cx="1160.1" cy="395.9" r="4.6"/><circle cx="1084.1" cy="409.0" r="4.6"/><circle cx="1190.6" cy="405.2" r="4.6"/><circle cx="1092.3" cy="405.0" r="4.6"/><circle cx="1104.4" cy="410.5" r="4.6"/><circle cx="1096.5" cy="398.7" r="4.6"/><circle cx="1185.6" cy="417.1" r="4.6"/><circle cx="1185.1" cy="422.4" r="4.6"/><circle cx="1126.7" cy="398.0" r="4.6"/><circle cx="1161.0" cy="403.4" r="4.6"/><circle cx="1126.2" cy="395.5" r="4.6"/><circle cx="1098.0" cy="394.5" r="4.6"/><circle cx="1184.0" cy="415.4" r="4.6"/><circle cx="1193.4" cy="418.2" r="4.6"/><circle cx="1105.7" cy="397.1" r="4.6"/><circle cx="1154.2" cy="411.2" r="4.6"/><circle cx="1086.8" cy="395.7" r="4.6"/><circle cx="1096.7" cy="411.1" r="4.6"/><circle cx="1103.6" cy="401.7" r="4.6"/><circle cx="1185.9" cy="409.5" r="4.6"/><circle cx="1201.9" cy="417.9" r="4.6"/><circle cx="1166.0" cy="405.2" r="4.6"/><circle cx="1115.1" cy="393.2" r="4.6"/><circle cx="1168.5" cy="408.1" r="4.6"/><circle cx="1195.3" cy="393.3" r="4.6"/><circle cx="1176.8" cy="400.6" r="4.6"/><circle cx="1174.5" cy="399.8" r="4.6"/><circle cx="1115.0" cy="402.8" r="4.6"/><circle cx="1117.3" cy="385.7" r="4.6"/><circle cx="1201.2" cy="409.3" r="4.6"/><circle cx="1082.3" cy="392.6" r="4.6"/><circle cx="1194.5" cy="416.4" r="4.6"/><circle cx="1114.1" cy="409.3" r="4.6"/><circle cx="1179.4" cy="425.0" r="4.6"/><circle cx="1188.7" cy="405.7" r="4.6"/><circle cx="1139.3" cy="402.4" r="4.6"/><circle cx="1168.8" cy="393.6" r="4.6"/><circle cx="1155.1" cy="391.1" r="4.6"/><circle cx="1117.4" cy="403.5" r="4.6"/><circle cx="1088.3" cy="410.2" r="4.6"/><circle cx="1087.3" cy="392.0" r="4.6"/><circle cx="1098.8" cy="386.0" r="4.6"/><circle cx="1150.0" cy="402.4" r="4.6"/><circle cx="1102.3" cy="391.0" r="4.6"/><circle cx="1161.6" cy="401.9" r="4.6"/><circle cx="1080.9" cy="388.8" r="4.6"/><circle cx="1121.8" cy="397.0" r="4.6"/><circle cx="1206.2" cy="417.0" r="4.6"/><circle cx="1181.2" cy="401.9" r="4.6"/><circle cx="1190.6" cy="409.6" r="4.6"/><circle cx="1155.6" cy="401.1" r="4.6"/><circle cx="1115.5" cy="399.6" r="4.6"/><circle cx="1106.3" cy="408.9" r="4.6"/><circle cx="1186.2" cy="409.8" r="4.6"/><circle cx="1118.5" cy="398.5" r="4.6"/><circle cx="1172.2" cy="415.0" r="4.6"/><circle cx="1088.3" cy="387.1" r="4.6"/><circle cx="1087.3" cy="394.9" r="4.6"/><circle cx="1102.0" cy="394.1" r="4.6"/><circle cx="1090.1" cy="390.8" r="4.6"/><circle cx="1206.3" cy="413.5" r="4.6"/><circle cx="1174.8" cy="400.0" r="4.6"/><circle cx="1136.2" cy="393.2" r="4.6"/><circle cx="1167.1" cy="416.0" r="4.6"/><circle cx="1116.0" cy="402.0" r="4.6"/><circle cx="1163.5" cy="401.6" r="4.6"/><circle cx="1164.3" cy="405.5" r="4.6"/><circle cx="1109.4" cy="405.1" r="4.6"/><circle cx="1151.9" cy="405.3" r="4.6"/><circle cx="1079.3" cy="386.4" r="4.6"/><circle cx="1110.2" cy="413.2" r="4.6"/><circle cx="1175.8" cy="403.8" r="4.6"/><circle cx="1185.0" cy="421.6" r="4.6"/><circle cx="1189.4" cy="421.8" r="4.6"/><circle cx="1114.5" cy="414.7" r="4.6"/><circle cx="1116.1" cy="399.4" r="4.6"/><circle cx="1170.5" cy="412.4" r="4.6"/><circle cx="1106.9" cy="417.9" r="4.6"/><circle cx="1135.9" cy="413.2" r="4.6"/><circle cx="1084.5" cy="383.5" r="4.6"/><circle cx="1142.9" cy="404.0" r="4.6"/><circle cx="1175.2" cy="422.6" r="4.6"/><circle cx="1146.9" cy="403.0" r="4.6"/><circle cx="1141.7" cy="404.3" r="4.6"/><circle cx="1168.1" cy="390.2" r="4.6"/><circle cx="1121.5" cy="411.5" r="4.6"/><circle cx="1128.2" cy="395.8" r="4.6"/><circle cx="1178.3" cy="409.0" r="4.6"/><circle cx="1158.2" cy="399.7" r="4.6"/><circle cx="1137.3" cy="408.2" r="4.6"/><circle cx="1198.5" cy="421.9" r="4.6"/><circle cx="1166.2" cy="396.2" r="4.6"/><circle cx="1083.6" cy="400.9" r="4.6"/><circle cx="1204.4" cy="421.8" r="4.6"/><circle cx="1171.3" cy="414.4" r="4.6"/><circle cx="1121.3" cy="403.5" r="4.6"/><circle cx="1166.2" cy="406.5" r="4.6"/><circle cx="1131.6" cy="392.3" r="4.6"/></g>
<line x1="887.5" y1="352.7" x2="1262.0" y2="394.9" stroke="#f7b4d5" stroke-width="3"/>
<line x1="887.5" y1="376.2" x2="1262.0" y2="417.3" stroke="#f7b4d5" stroke-width="3"/>
<line x1="1099.6" y1="377" x2="1099.6" y2="388" stroke="#f8c4dc" stroke-width="2.4"/>
<polygon points="1095.8999999999999,385.5 1103.3,385.5 1099.6,398" fill="#f8c4dc"/>
<path d="M886,273.8H896.5M886,309.6H896.5M886,345.4H896.5M886,381.1H896.5M886,416.9H896.5M886,452.7H896.5M886,238H896.5M1011.3,488.5V478.5M1136.6,488.5V478.5" stroke="#000" stroke-width="3.4"/>
<rect x="886" y="238" width="377.5" height="250.5" fill="none" stroke="#000" stroke-width="3.2"/>
<text transform="translate(70.16,25.30) scale(0.9703,1)" font-family="'Liberation Sans', Arial, sans-serif" font-size="34" fill="#000">(a)</text>
<text transform="translate(504.00,24.90)" font-family="'Liberation Sans', Arial, sans-serif" font-size="34" fill="#000">(b)</text>
<text transform="translate(226.59,174.20) scale(1.0098,1)" font-family="'Liberation Serif', 'Times New Roman', serif" font-size="36" fill="#000">Termination</text>
<text transform="translate(663.79,173.50) scale(1.0149,1)" font-family="'Liberation Serif', 'Times New Roman', serif" font-size="36" fill="#000">Termination</text>
<text transform="translate(1067.29,173.50) scale(1.0121,1)" font-family="'Liberation Serif', 'Times New Roman', serif" font-size="36" fill="#000">Termination</text>
<text transform="translate(759.48,72.50) scale(1.0157,1)" font-family="'Liberation Serif', 'Times New Roman', serif" font-size="36" fill="#000">Bar</text>
<text transform="translate(1155.18,72.20) scale(1.0076,1)" font-family="'Liberation Serif', 'Times New Roman', serif" font-size="36" fill="#000">Cross</text>
<text transform="translate(125.04,317.40) scale(0.9878,1)" font-family="'Liberation Serif', 'Times New Roman', serif" font-size="36" fill="#f7b4d5">1.79 dB/cm</text>
<text transform="translate(261.80,354.00) scale(1.0161,1)" font-family="'Liberation Serif', 'Times New Roman', serif" font-size="36" fill="#000">–6.1 dB</text>
<text transform="translate(553.45,317.40) scale(0.9841,1)" font-family="'Liberation Serif', 'Times New Roman', serif" font-size="36" fill="#f7b4d5">1.74 dB/cm</text>
<text transform="translate(685.00,354.30) scale(1.0063,1)" font-family="'Liberation Serif', 'Times New Roman', serif" font-size="36" fill="#000">–5.9 dB</text>
<text transform="translate(960.52,313.80) scale(0.9927,1)" font-family="'Liberation Serif', 'Times New Roman', serif" font-size="36" fill="#f7b4d5">1.74 dB/cm</text>
<text transform="translate(1087.40,359.30) scale(1.0098,1)" font-family="'Liberation Serif', 'Times New Roman', serif" font-size="36" fill="#000">–6.4 dB</text>
<text transform="translate(799.10,271.60)" font-family="'Liberation Serif', 'Times New Roman', serif" font-size="36" fill="#000">Bar</text>
<text transform="translate(1172.58,276.60) scale(1.0089,1)" font-family="'Liberation Serif', 'Times New Roman', serif" font-size="36" fill="#000">Cross</text>
<text transform="translate(135.89,529.70) scale(1.0056,1)" font-family="'Liberation Serif', 'Times New Roman', serif" font-size="36" fill="#000"><tspan font-style="italic">n</tspan><tspan font-size="26" dy="8">g</tspan><tspan font-style="italic" dy="-8">L</tspan> [0.5 cm/div]</text>
<text transform="translate(756.00,529.70)" font-family="'Liberation Serif', 'Times New Roman', serif" font-size="36" fill="#000"><tspan font-style="italic">n</tspan><tspan font-size="26" dy="8">g</tspan><tspan font-style="italic" dy="-8">L</tspan> [0.5 cm/div]</text>
<text transform="translate(26.3,513.3) rotate(-90)" font-family="'Liberation Serif', 'Times New Roman', serif" font-size="36">Intensity [10 dB/div]</text>
</svg></body></html>
